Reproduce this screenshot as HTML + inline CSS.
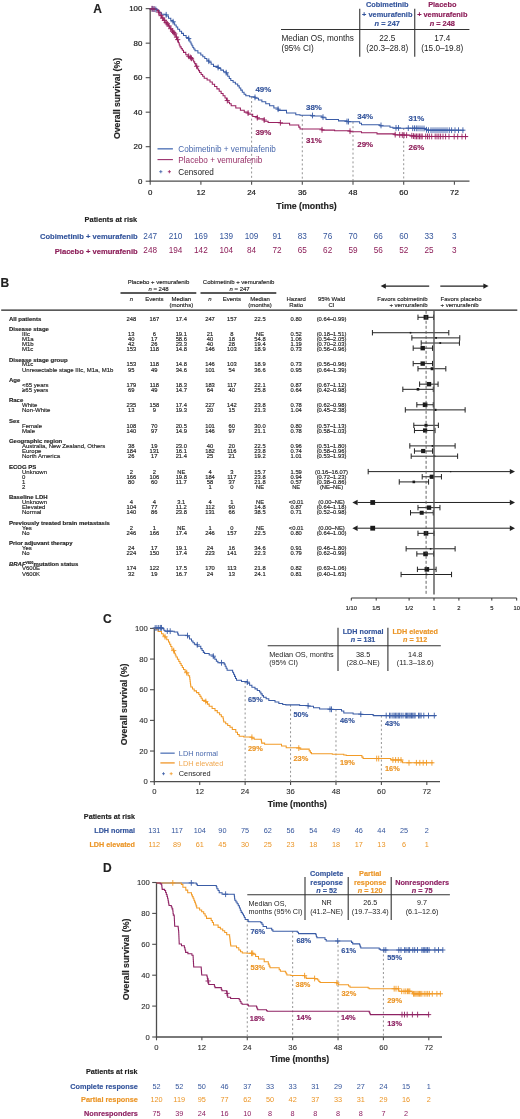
<!DOCTYPE html>
<html><head><meta charset="utf-8"><title>Overall survival figure</title>
<style>
html,body{margin:0;padding:0;background:#fff;}
body{width:520px;height:1119px;overflow:hidden;}
svg{display:block;font-family:'Liberation Sans', Arial, sans-serif;filter:blur(0.3px);}
text{stroke-linejoin:round;}
</style></head><body>
<svg width="520" height="1119" viewBox="0 0 520 1119">
<rect width="520" height="1119" fill="#fff"/>
<text x="93.2" y="12.9" font-size="12" fill="#222" text-anchor="start" font-weight="bold" stroke="#222" stroke-width="0.15">A</text>
<text transform="translate(120.4,98.5) rotate(-90)" x="0" y="0" font-size="8.75" font-weight="bold" fill="#222" text-anchor="middle" stroke="#222" stroke-width="0.15">Overall survival (%)</text>
<line x1="150.2" y1="8.15" x2="150.2" y2="181.8" stroke="#4d4d4d" stroke-width="1.3"/>
<line x1="149.6" y1="181.2" x2="469.5" y2="181.2" stroke="#4d4d4d" stroke-width="1.3"/>
<line x1="145.7" y1="181.2" x2="150.2" y2="181.2" stroke="#4d4d4d" stroke-width="1.1"/>
<text x="142.4" y="184" font-size="7.9" fill="#222" text-anchor="end" stroke="#222" stroke-width="0.22">0</text>
<line x1="145.7" y1="146.69" x2="150.2" y2="146.69" stroke="#4d4d4d" stroke-width="1.1"/>
<text x="142.4" y="149.49" font-size="7.9" fill="#222" text-anchor="end" stroke="#222" stroke-width="0.22">20</text>
<line x1="145.7" y1="112.18" x2="150.2" y2="112.18" stroke="#4d4d4d" stroke-width="1.1"/>
<text x="142.4" y="114.98" font-size="7.9" fill="#222" text-anchor="end" stroke="#222" stroke-width="0.22">40</text>
<line x1="145.7" y1="77.67" x2="150.2" y2="77.67" stroke="#4d4d4d" stroke-width="1.1"/>
<text x="142.4" y="80.47" font-size="7.9" fill="#222" text-anchor="end" stroke="#222" stroke-width="0.22">60</text>
<line x1="145.7" y1="43.16" x2="150.2" y2="43.16" stroke="#4d4d4d" stroke-width="1.1"/>
<text x="142.4" y="45.96" font-size="7.9" fill="#222" text-anchor="end" stroke="#222" stroke-width="0.22">80</text>
<line x1="145.7" y1="8.65" x2="150.2" y2="8.65" stroke="#4d4d4d" stroke-width="1.1"/>
<text x="142.4" y="11.45" font-size="7.9" fill="#222" text-anchor="end" stroke="#222" stroke-width="0.22">100</text>
<line x1="150.2" y1="181.2" x2="150.2" y2="184.7" stroke="#4d4d4d" stroke-width="1.1"/>
<text x="150.2" y="195.1" font-size="7.9" fill="#222" text-anchor="middle" stroke="#222" stroke-width="0.22">0</text>
<line x1="200.9" y1="181.2" x2="200.9" y2="184.7" stroke="#4d4d4d" stroke-width="1.1"/>
<text x="200.9" y="195.1" font-size="7.9" fill="#222" text-anchor="middle" stroke="#222" stroke-width="0.22">12</text>
<line x1="251.6" y1="181.2" x2="251.6" y2="184.7" stroke="#4d4d4d" stroke-width="1.1"/>
<text x="251.6" y="195.1" font-size="7.9" fill="#222" text-anchor="middle" stroke="#222" stroke-width="0.22">24</text>
<line x1="302.3" y1="181.2" x2="302.3" y2="184.7" stroke="#4d4d4d" stroke-width="1.1"/>
<text x="302.3" y="195.1" font-size="7.9" fill="#222" text-anchor="middle" stroke="#222" stroke-width="0.22">36</text>
<line x1="353" y1="181.2" x2="353" y2="184.7" stroke="#4d4d4d" stroke-width="1.1"/>
<text x="353" y="195.1" font-size="7.9" fill="#222" text-anchor="middle" stroke="#222" stroke-width="0.22">48</text>
<line x1="403.7" y1="181.2" x2="403.7" y2="184.7" stroke="#4d4d4d" stroke-width="1.1"/>
<text x="403.7" y="195.1" font-size="7.9" fill="#222" text-anchor="middle" stroke="#222" stroke-width="0.22">60</text>
<line x1="454.4" y1="181.2" x2="454.4" y2="184.7" stroke="#4d4d4d" stroke-width="1.1"/>
<text x="454.4" y="195.1" font-size="7.9" fill="#222" text-anchor="middle" stroke="#222" stroke-width="0.22">72</text>
<text x="306.5" y="209.2" font-size="8.8" fill="#222" text-anchor="middle" font-weight="bold" stroke="#222" stroke-width="0.15">Time (months)</text>
<line x1="251.6" y1="96.64" x2="251.6" y2="181.2" stroke="#888" stroke-width="0.9" stroke-dasharray="2,2.4"/>
<line x1="302.3" y1="115.06" x2="302.3" y2="181.2" stroke="#888" stroke-width="0.9" stroke-dasharray="2,2.4"/>
<line x1="353" y1="121.79" x2="353" y2="181.2" stroke="#888" stroke-width="0.9" stroke-dasharray="2,2.4"/>
<line x1="403.7" y1="128.03" x2="403.7" y2="181.2" stroke="#888" stroke-width="0.9" stroke-dasharray="2,2.4"/>
<path d="M150.2,8.5V9.05H156.9V9.6V10.62H159.2V12.68H161.5V13.7V14.25H166.2V14.8V15.95H168.5V18.25H170.8V20.55H173.1V21.7V22.77H174.63V24.9H176.17V27.03H177.7V28.1V29.15H179.63V31.25H181.57V33.35H183.5V34.4V35.42H186.1V37.47H188.7V38.5V39.65H189.85V41.95H191V43.1V43.97H191.93V45.7H192.87V47.43H193.8V48.3V48.95H195V49.6V50.75H197.9V53.05H200.8V54.2V55.08H202.8V56.83H204.8V58.58H206.8V60.33H208.8V61.2V62.2H211.15V64.2H213.5V65.2V66.35H218.1V67.5V68.37H220.8V70.1H223.5V71.83H226.2V72.7V73.85H227.73V76.15H229.27V78.45H230.8V79.6V80.47H233.1V82.2H235.4V83.93H237.7V84.8V85.87H239.23V88H240.77V90.13H242.3V91.2V92.22H244.05V94.27H245.8V95.3V95.75H249.6V96.2V96.8H255V97.4V98.25H258.45V99.95H261.9V100.8V101.75H265.75V103.65H269.6V104.6V105.75H273.85V108.05H278.1V109.2V110.35H286.5V111.5V112.95H295.8V114.4V114.7H300V115V115.15H311V115.3V115.95H322V116.6V117.7H326V118.8V119.5H338.5V120.2V120.85H347V121.5V121.8H359.6V122.1V123.15H361.5V124.2V124.75H380V125.3V125.95H390V126.6V127.2H393V127.8V128.15H425V128.5V129.35H427V130.2H464.2" fill="none" stroke="#3a5ca6" stroke-width="1.05" stroke-linejoin="miter"/>
<path d="M150.2,8.5V9.05H156.9V9.6V10.62H158.35V12.68H159.8V13.7V15.1H161.5V16.5V17.68H163.25V20.02H165V21.2V22.2H166.75V24.2H168.5V25.2V26.07H169.63V27.8H170.77V29.53H171.9V30.4V31.25H173.35V32.95H174.8V33.8V34.77H175.77V36.7H176.73V38.63H177.7V39.6V40.67H178.47V42.8H179.23V44.93H180V46V46.87H181.17V48.6H182.33V50.33H183.5V51.2V52.35H185.8V54.65H188.1V55.8V56.65H190.4V58.35H192.7V59.2V60.09H193.7V61.86H194.7V63.64H195.7V65.41H196.7V66.3V67.17H197.67V68.9H198.63V70.63H199.6V71.5V72.47H201.13V74.4H202.67V76.33H204.2V77.3V78.17H207.1V79.92H210V80.8V81.95H212.3V84.25H214.6V85.4V86.55H216.9V88.85H219.2V90V91.15H221.13V93.45H223.07V95.75H225V96.9V98.05H226.45V100.35H227.9V101.5V102.28H229.55V103.83H231.2V104.6V105.75H235.8V108.05H240.4V109.2V110.17H244.25V112.12H248.1V113.1V114.25H252.7V115.4V116.55H257.3V117.7V118.85H264.2V120V121.15H268.1V122.3V122.55H280.4V122.8V123.3H289.6V123.8V125H298.8V126.2V127.1H300V128V128.9H322V129.8V130.1H334.6V130.4V130.8H350V131.2V131.75H361.5V132.3V132.7H377V133.1V133.85H395V134.6V135H410V135.4V135.9H415V136.4V136.5H467.7V136.6" fill="none" stroke="#992160" stroke-width="1.05" stroke-linejoin="miter"/>
<path d="M152.3,5.94V11.74M149.7,8.84H154.9M154,6.22V12.02M151.4,9.12H156.6M155.8,6.52V12.32M153.2,9.42H158.4M166.2,11.9V17.7M163.6,14.8H168.8M173.1,18.8V24.6M170.5,21.7H175.7M188.7,35.6V41.4M186.1,38.5H191.3M208.8,58.3V64.1M206.2,61.2H211.4M218.1,64.6V70.4M215.5,67.5H220.7M226.2,69.8V75.6M223.6,72.7H228.8M255,94.5V100.3M252.4,97.4H257.6M278.1,106.3V112.1M275.5,109.2H280.7M312.5,112.58V118.38M309.9,115.48H315.1M323,114.25V120.05M320.4,117.15H325.6M347,118.6V124.4M344.4,121.5H349.6M348.5,118.67V124.47M345.9,121.57H351.1M381,122.53V128.33M378.4,125.43H383.6M396,124.97V130.77M393.4,127.87H398.6M398.5,125.02V130.82M395.9,127.92H401.1M408.3,125.23V131.03M405.7,128.13H410.9M412.7,125.33V131.13M410.1,128.23H415.3M414.5,125.37V131.17M411.9,128.27H417.1M416.3,125.41V131.21M413.7,128.31H418.9M418,125.45V131.25M415.4,128.35H420.6M420,125.49V131.29M417.4,128.39H422.6M422,125.53V131.33M419.4,128.43H424.6M424,125.58V131.38M421.4,128.48H426.6M426.5,126.87V132.67M423.9,129.77H429.1M428.5,127.3V133.1M425.9,130.2H431.1M431,127.3V133.1M428.4,130.2H433.6M433,127.3V133.1M430.4,130.2H435.6M435,127.3V133.1M432.4,130.2H437.6M437,127.3V133.1M434.4,130.2H439.6M439,127.3V133.1M436.4,130.2H441.6M441,127.3V133.1M438.4,130.2H443.6M443,127.3V133.1M440.4,130.2H445.6M445,127.3V133.1M442.4,130.2H447.6M447,127.3V133.1M444.4,130.2H449.6M449.3,127.3V133.1M446.7,130.2H451.9M451.6,127.3V133.1M449,130.2H454.2M455,127.3V133.1M452.4,130.2H457.6M458.5,127.3V133.1M455.9,130.2H461.1M462.9,127.3V133.1M460.3,130.2H465.5" fill="none" stroke="#3a5ca6" stroke-width="0.9"/>
<path d="M152,5.9V11.7M149.4,8.8H154.6M154,6.22V12.02M151.4,9.12H156.6M158.7,9.24V15.04M156.1,12.14H161.3M161,12.78V18.58M158.4,15.68H163.6M162.7,15.21V21.01M160.1,18.11H165.3M164.4,17.49V23.29M161.8,20.39H167M166.2,19.67V25.47M163.6,22.57H168.8M167.3,20.93V26.73M164.7,23.83H169.9M169,23.06V28.86M166.4,25.96H171.6M170.8,25.82V31.62M168.2,28.72H173.4M172.5,28.2V34M169.9,31.1H175.1M173.7,29.61V35.41M171.1,32.51H176.3M174.8,30.9V36.7M172.2,33.8H177.4M176.5,34.3V40.1M173.9,37.2H179.1M177.7,36.7V42.5M175.1,39.6H180.3M188.7,53.34V59.14M186.1,56.24H191.3M190.4,54.6V60.4M187.8,57.5H193M191.5,55.41V61.21M188.9,58.31H194.1M196.7,63.4V69.2M194.1,66.3H199.3M227.3,97.65V103.45M224.7,100.55H229.9M248.1,110.2V116M245.5,113.1H250.7M257.3,114.8V120.6M254.7,117.7H259.9M264.2,117.1V122.9M261.6,120H266.8M280.4,119.9V125.7M277.8,122.8H283M322,126.9V132.7M319.4,129.8H324.6M350,128.3V134.1M347.4,131.2H352.6M395.2,131.71V137.51M392.6,134.61H397.8M399.7,131.95V137.75M397.1,134.85H402.3M402.3,132.09V137.89M399.7,134.99H404.9M404,132.18V137.98M401.4,135.08H406.6M406.6,132.32V138.12M404,135.22H409.2M411.8,132.86V138.66M409.2,135.76H414.4M413.5,133.2V139M410.9,136.1H416.1M415,133.5V139.3M412.4,136.4H417.6M416.5,133.51V139.31M413.9,136.41H419.1M418,133.51V139.31M415.4,136.41H420.6M419.5,133.52V139.32M416.9,136.42H422.1M421,133.52V139.32M418.4,136.42H423.6M422.2,133.53V139.33M419.6,136.43H424.8M425.7,133.54V139.34M423.1,136.44H428.3M427.5,133.55V139.35M424.9,136.45H430.1M429.3,133.55V139.35M426.7,136.45H431.9M431.7,133.56V139.36M429.1,136.46H434.3M435.2,133.58V139.38M432.6,136.48H437.8M437,133.58V139.38M434.4,136.48H439.6M438.8,133.59V139.39M436.2,136.49H441.4M440.6,133.6V139.4M438,136.5H443.2M443,133.61V139.41M440.4,136.51H445.6M445.6,133.62V139.42M443,136.52H448.2M449,133.63V139.43M446.4,136.53H451.6M454.2,133.65V139.45M451.6,136.55H456.8M457.7,133.66V139.46M455.1,136.56H460.3M462,133.68V139.48M459.4,136.58H464.6M465.5,133.69V139.49M462.9,136.59H468.1" fill="none" stroke="#992160" stroke-width="0.9"/>
<text x="255.4" y="91.9" font-size="7.9" fill="#34559c" text-anchor="start" font-weight="bold" stroke="#34559c" stroke-width="0.15">49%</text>
<text x="306" y="109.7" font-size="7.9" fill="#34559c" text-anchor="start" font-weight="bold" stroke="#34559c" stroke-width="0.15">38%</text>
<text x="357.3" y="118.5" font-size="7.9" fill="#34559c" text-anchor="start" font-weight="bold" stroke="#34559c" stroke-width="0.15">34%</text>
<text x="408.5" y="121.2" font-size="7.9" fill="#34559c" text-anchor="start" font-weight="bold" stroke="#34559c" stroke-width="0.15">31%</text>
<text x="255.4" y="134.6" font-size="7.9" fill="#8c1d58" text-anchor="start" font-weight="bold" stroke="#8c1d58" stroke-width="0.15">39%</text>
<text x="306" y="143.4" font-size="7.9" fill="#8c1d58" text-anchor="start" font-weight="bold" stroke="#8c1d58" stroke-width="0.15">31%</text>
<text x="357.3" y="147.3" font-size="7.9" fill="#8c1d58" text-anchor="start" font-weight="bold" stroke="#8c1d58" stroke-width="0.15">29%</text>
<text x="408.5" y="150.3" font-size="7.9" fill="#8c1d58" text-anchor="start" font-weight="bold" stroke="#8c1d58" stroke-width="0.15">26%</text>
<line x1="157.5" y1="148.8" x2="172.9" y2="148.8" stroke="#6a88c2" stroke-width="1.6"/>
<line x1="157.5" y1="159.6" x2="172.9" y2="159.6" stroke="#9a2f6c" stroke-width="1.1"/>
<text x="178.3" y="151.7" font-size="8.2" fill="#4868ad" text-anchor="start">Cobimetinib + vemurafenib</text>
<text x="178.3" y="162.5" font-size="8.2" fill="#973068" text-anchor="start">Placebo + vemurafenib</text>
<line x1="159.2" y1="171.7" x2="162.4" y2="171.7" stroke="#3a5ca6" stroke-width="0.8"/>
<line x1="160.8" y1="170.1" x2="160.8" y2="173.3" stroke="#3a5ca6" stroke-width="0.8"/>
<line x1="167.8" y1="171.7" x2="171" y2="171.7" stroke="#992160" stroke-width="0.8"/>
<line x1="169.4" y1="170.1" x2="169.4" y2="173.3" stroke="#992160" stroke-width="0.8"/>
<text x="178.3" y="174.6" font-size="8.2" fill="#222" text-anchor="start">Censored</text>
<line x1="281" y1="29.5" x2="469.4" y2="29.5" stroke="#333" stroke-width="1.1"/>
<line x1="359.75" y1="8.75" x2="359.75" y2="56.8" stroke="#333" stroke-width="1.1"/>
<line x1="414.75" y1="8.75" x2="414.75" y2="56.8" stroke="#333" stroke-width="1.1"/>
<text x="387.25" y="6.7" font-size="7.4" fill="#34559c" text-anchor="middle" font-weight="bold" stroke="#34559c" stroke-width="0.15">Cobimetinib</text>
<text x="387.25" y="16.9" font-size="7.4" fill="#34559c" text-anchor="middle" font-weight="bold" stroke="#34559c" stroke-width="0.15">+ vemurafenib</text>
<text x="387.25" y="26.2" font-size="7.4" fill="#34559c" text-anchor="middle" font-weight="bold" stroke="#34559c" stroke-width="0.15"><tspan font-style="italic">n</tspan> = 247</text>
<text x="442.3" y="6.7" font-size="7.4" fill="#8c1d58" text-anchor="middle" font-weight="bold" stroke="#8c1d58" stroke-width="0.15">Placebo</text>
<text x="442.3" y="16.9" font-size="7.4" fill="#8c1d58" text-anchor="middle" font-weight="bold" stroke="#8c1d58" stroke-width="0.15">+ vemurafenib</text>
<text x="442.3" y="26.2" font-size="7.4" fill="#8c1d58" text-anchor="middle" font-weight="bold" stroke="#8c1d58" stroke-width="0.15"><tspan font-style="italic">n</tspan> = 248</text>
<text x="281.5" y="40.7" font-size="8.2" fill="#222" text-anchor="start">Median OS, months</text>
<text x="281.5" y="51" font-size="8.2" fill="#222" text-anchor="start">(95% CI)</text>
<text x="387.25" y="40.7" font-size="8.2" fill="#222" text-anchor="middle">22.5</text>
<text x="387.25" y="51" font-size="8.2" fill="#222" text-anchor="middle">(20.3–28.8)</text>
<text x="442.3" y="40.7" font-size="8.2" fill="#222" text-anchor="middle">17.4</text>
<text x="442.3" y="51" font-size="8.2" fill="#222" text-anchor="middle">(15.0–19.8)</text>
<text x="137.2" y="221.9" font-size="7.4" fill="#222" text-anchor="end" font-weight="bold" stroke="#222" stroke-width="0.15">Patients at risk</text>
<text x="137.7" y="239" font-size="7.6" fill="#34559c" text-anchor="end" font-weight="bold" stroke="#34559c" stroke-width="0.15">Cobimetinib + vemurafenib</text>
<text x="137.7" y="253.5" font-size="7.6" fill="#8c1d58" text-anchor="end" font-weight="bold" stroke="#8c1d58" stroke-width="0.15">Placebo + vemurafenib</text>
<text x="150.2" y="238.9" font-size="8.2" fill="#34559c" text-anchor="middle">247</text>
<text x="150.2" y="252.8" font-size="8.2" fill="#8c1d58" text-anchor="middle">248</text>
<text x="175.55" y="238.9" font-size="8.2" fill="#34559c" text-anchor="middle">210</text>
<text x="175.55" y="252.8" font-size="8.2" fill="#8c1d58" text-anchor="middle">194</text>
<text x="200.9" y="238.9" font-size="8.2" fill="#34559c" text-anchor="middle">169</text>
<text x="200.9" y="252.8" font-size="8.2" fill="#8c1d58" text-anchor="middle">142</text>
<text x="226.25" y="238.9" font-size="8.2" fill="#34559c" text-anchor="middle">139</text>
<text x="226.25" y="252.8" font-size="8.2" fill="#8c1d58" text-anchor="middle">104</text>
<text x="251.6" y="238.9" font-size="8.2" fill="#34559c" text-anchor="middle">109</text>
<text x="251.6" y="252.8" font-size="8.2" fill="#8c1d58" text-anchor="middle">84</text>
<text x="276.95" y="238.9" font-size="8.2" fill="#34559c" text-anchor="middle">91</text>
<text x="276.95" y="252.8" font-size="8.2" fill="#8c1d58" text-anchor="middle">72</text>
<text x="302.3" y="238.9" font-size="8.2" fill="#34559c" text-anchor="middle">83</text>
<text x="302.3" y="252.8" font-size="8.2" fill="#8c1d58" text-anchor="middle">65</text>
<text x="327.65" y="238.9" font-size="8.2" fill="#34559c" text-anchor="middle">76</text>
<text x="327.65" y="252.8" font-size="8.2" fill="#8c1d58" text-anchor="middle">62</text>
<text x="353" y="238.9" font-size="8.2" fill="#34559c" text-anchor="middle">70</text>
<text x="353" y="252.8" font-size="8.2" fill="#8c1d58" text-anchor="middle">59</text>
<text x="378.35" y="238.9" font-size="8.2" fill="#34559c" text-anchor="middle">66</text>
<text x="378.35" y="252.8" font-size="8.2" fill="#8c1d58" text-anchor="middle">56</text>
<text x="403.7" y="238.9" font-size="8.2" fill="#34559c" text-anchor="middle">60</text>
<text x="403.7" y="252.8" font-size="8.2" fill="#8c1d58" text-anchor="middle">52</text>
<text x="429.05" y="238.9" font-size="8.2" fill="#34559c" text-anchor="middle">33</text>
<text x="429.05" y="252.8" font-size="8.2" fill="#8c1d58" text-anchor="middle">25</text>
<text x="454.4" y="238.9" font-size="8.2" fill="#34559c" text-anchor="middle">3</text>
<text x="454.4" y="252.8" font-size="8.2" fill="#8c1d58" text-anchor="middle">3</text>
<text x="0.6" y="286.7" font-size="12" fill="#222" text-anchor="start" font-weight="bold" stroke="#222" stroke-width="0.15">B</text>
<text x="158.5" y="283.8" font-size="6" fill="#222" text-anchor="middle" stroke="#222" stroke-width="0.15">Placebo + vemurafenib</text>
<text x="158.5" y="290.5" font-size="6" fill="#222" text-anchor="middle" stroke="#222" stroke-width="0.15"><tspan font-style="italic">n</tspan> = 248</text>
<line x1="120.5" y1="293" x2="196.3" y2="293" stroke="#222" stroke-width="1.3"/>
<text x="238.6" y="283.8" font-size="6" fill="#222" text-anchor="middle" stroke="#222" stroke-width="0.15">Cobimetinib + vemurafenib</text>
<text x="239.6" y="290.5" font-size="6" fill="#222" text-anchor="middle" stroke="#222" stroke-width="0.15"><tspan font-style="italic">n</tspan> = 247</text>
<line x1="200.5" y1="293" x2="276.3" y2="293" stroke="#222" stroke-width="1.3"/>
<text x="131.3" y="300.5" font-size="6" fill="#222" text-anchor="middle" font-style="italic" stroke="#222" stroke-width="0.15">n</text>
<text x="154.3" y="300.5" font-size="6" fill="#222" text-anchor="middle" stroke="#222" stroke-width="0.15">Events</text>
<text x="181.3" y="300.5" font-size="6" fill="#222" text-anchor="middle" stroke="#222" stroke-width="0.15">Median</text>
<text x="181.3" y="307.3" font-size="6" fill="#222" text-anchor="middle" stroke="#222" stroke-width="0.15">(months)</text>
<text x="210" y="300.5" font-size="6" fill="#222" text-anchor="middle" font-style="italic" stroke="#222" stroke-width="0.15">n</text>
<text x="231.8" y="300.5" font-size="6" fill="#222" text-anchor="middle" stroke="#222" stroke-width="0.15">Events</text>
<text x="260" y="300.5" font-size="6" fill="#222" text-anchor="middle" stroke="#222" stroke-width="0.15">Median</text>
<text x="260" y="307.3" font-size="6" fill="#222" text-anchor="middle" stroke="#222" stroke-width="0.15">(months)</text>
<text x="296.2" y="300.5" font-size="6" fill="#222" text-anchor="middle" stroke="#222" stroke-width="0.15">Hazard</text>
<text x="296.2" y="307.3" font-size="6" fill="#222" text-anchor="middle" stroke="#222" stroke-width="0.15">Ratio</text>
<text x="331.5" y="300.5" font-size="6" fill="#222" text-anchor="middle" stroke="#222" stroke-width="0.15">95% Wald</text>
<text x="331.5" y="307.3" font-size="6" fill="#222" text-anchor="middle" stroke="#222" stroke-width="0.15">CI</text>
<text x="427.6" y="300.5" font-size="6" fill="#222" text-anchor="end" stroke="#222" stroke-width="0.15">Favors cobimetinib</text>
<text x="427.6" y="307.3" font-size="6" fill="#222" text-anchor="end" stroke="#222" stroke-width="0.15">+ vemurafenib</text>
<text x="440.5" y="300.5" font-size="6" fill="#222" text-anchor="start" stroke="#222" stroke-width="0.15">Favors placebo</text>
<text x="440.5" y="307.3" font-size="6" fill="#222" text-anchor="start" stroke="#222" stroke-width="0.15">+ vemurafenib</text>
<line x1="384.5" y1="286.1" x2="429.2" y2="286.1" stroke="#222" stroke-width="1.1"/>
<path d="M380.6,286.1 L385.8,283.5 L385.8,288.70000000000005 Z" fill="#222"/>
<line x1="440.3" y1="286.1" x2="484.5" y2="286.1" stroke="#222" stroke-width="1.1"/>
<path d="M488.6,286.1 L483.4,283.5 L483.4,288.70000000000005 Z" fill="#222"/>
<line x1="1.2" y1="310.2" x2="517.3" y2="310.2" stroke="#222" stroke-width="1.3"/>
<text x="8.9" y="320.9" font-size="6" fill="#222" text-anchor="start" font-weight="bold" stroke="#222" stroke-width="0.15">All patients</text>
<text x="131.3" y="320.6" font-size="5.8" fill="#222" text-anchor="middle" stroke="#222" stroke-width="0.15">248</text>
<text x="154.3" y="320.6" font-size="5.8" fill="#222" text-anchor="middle" stroke="#222" stroke-width="0.15">167</text>
<text x="181.3" y="320.6" font-size="5.8" fill="#222" text-anchor="middle" stroke="#222" stroke-width="0.15">17.4</text>
<text x="210" y="320.6" font-size="5.8" fill="#222" text-anchor="middle" stroke="#222" stroke-width="0.15">247</text>
<text x="231.8" y="320.6" font-size="5.8" fill="#222" text-anchor="middle" stroke="#222" stroke-width="0.15">157</text>
<text x="260" y="320.6" font-size="5.8" fill="#222" text-anchor="middle" stroke="#222" stroke-width="0.15">22.5</text>
<text x="296.2" y="320.6" font-size="5.8" fill="#222" text-anchor="middle" stroke="#222" stroke-width="0.15">0.80</text>
<text x="331.5" y="320.6" font-size="5.8" fill="#222" text-anchor="middle" stroke="#222" stroke-width="0.15">(0.64–0.99)</text>
<line x1="417.97" y1="317.3" x2="433.64" y2="317.3" stroke="#222" stroke-width="1.0"/>
<line x1="417.97" y1="314.6" x2="417.97" y2="320" stroke="#222" stroke-width="1.0"/>
<line x1="433.64" y1="314.6" x2="433.64" y2="320" stroke="#222" stroke-width="1.0"/>
<rect x="423.59" y="314.9" width="4.8" height="4.8" fill="#1a1a1a"/>
<text x="8.9" y="331.1" font-size="6" fill="#222" text-anchor="start" font-weight="bold" stroke="#222" stroke-width="0.15">Disease stage</text>
<text x="22" y="335.9" font-size="6" fill="#222" text-anchor="start" stroke="#222" stroke-width="0.15">IIIc</text>
<text x="131.3" y="335.9" font-size="5.8" fill="#222" text-anchor="middle" stroke="#222" stroke-width="0.15">13</text>
<text x="154.3" y="335.9" font-size="5.8" fill="#222" text-anchor="middle" stroke="#222" stroke-width="0.15">6</text>
<text x="181.3" y="335.9" font-size="5.8" fill="#222" text-anchor="middle" stroke="#222" stroke-width="0.15">19.1</text>
<text x="210" y="335.9" font-size="5.8" fill="#222" text-anchor="middle" stroke="#222" stroke-width="0.15">21</text>
<text x="231.8" y="335.9" font-size="5.8" fill="#222" text-anchor="middle" stroke="#222" stroke-width="0.15">8</text>
<text x="260" y="335.9" font-size="5.8" fill="#222" text-anchor="middle" stroke="#222" stroke-width="0.15">NE</text>
<text x="296.2" y="335.9" font-size="5.8" fill="#222" text-anchor="middle" stroke="#222" stroke-width="0.15">0.52</text>
<text x="331.5" y="335.9" font-size="5.8" fill="#222" text-anchor="middle" stroke="#222" stroke-width="0.15">(0.18–1.51)</text>
<line x1="372.41" y1="332.73" x2="448.8" y2="332.73" stroke="#222" stroke-width="1.0"/>
<line x1="372.41" y1="330.03" x2="372.41" y2="335.43" stroke="#222" stroke-width="1.0"/>
<line x1="448.8" y1="330.03" x2="448.8" y2="335.43" stroke="#222" stroke-width="1.0"/>
<rect x="409.71" y="331.93" width="1.6" height="1.6" fill="#1a1a1a"/>
<text x="22" y="341" font-size="6" fill="#222" text-anchor="start" stroke="#222" stroke-width="0.15">M1a</text>
<text x="131.3" y="341" font-size="5.8" fill="#222" text-anchor="middle" stroke="#222" stroke-width="0.15">40</text>
<text x="154.3" y="341" font-size="5.8" fill="#222" text-anchor="middle" stroke="#222" stroke-width="0.15">17</text>
<text x="181.3" y="341" font-size="5.8" fill="#222" text-anchor="middle" stroke="#222" stroke-width="0.15">58.6</text>
<text x="210" y="341" font-size="5.8" fill="#222" text-anchor="middle" stroke="#222" stroke-width="0.15">40</text>
<text x="231.8" y="341" font-size="5.8" fill="#222" text-anchor="middle" stroke="#222" stroke-width="0.15">18</text>
<text x="260" y="341" font-size="5.8" fill="#222" text-anchor="middle" stroke="#222" stroke-width="0.15">54.8</text>
<text x="296.2" y="341" font-size="5.8" fill="#222" text-anchor="middle" stroke="#222" stroke-width="0.15">1.06</text>
<text x="331.5" y="341" font-size="5.8" fill="#222" text-anchor="middle" stroke="#222" stroke-width="0.15">(0.54–2.05)</text>
<line x1="411.87" y1="337.88" x2="459.78" y2="337.88" stroke="#222" stroke-width="1.0"/>
<line x1="411.87" y1="335.18" x2="411.87" y2="340.58" stroke="#222" stroke-width="1.0"/>
<line x1="459.78" y1="335.18" x2="459.78" y2="340.58" stroke="#222" stroke-width="1.0"/>
<rect x="435.19" y="336.98" width="1.8" height="1.8" fill="#1a1a1a"/>
<text x="22" y="346.1" font-size="6" fill="#222" text-anchor="start" stroke="#222" stroke-width="0.15">M1b</text>
<text x="131.3" y="346.1" font-size="5.8" fill="#222" text-anchor="middle" stroke="#222" stroke-width="0.15">42</text>
<text x="154.3" y="346.1" font-size="5.8" fill="#222" text-anchor="middle" stroke="#222" stroke-width="0.15">26</text>
<text x="181.3" y="346.1" font-size="5.8" fill="#222" text-anchor="middle" stroke="#222" stroke-width="0.15">23.3</text>
<text x="210" y="346.1" font-size="5.8" fill="#222" text-anchor="middle" stroke="#222" stroke-width="0.15">40</text>
<text x="231.8" y="346.1" font-size="5.8" fill="#222" text-anchor="middle" stroke="#222" stroke-width="0.15">28</text>
<text x="260" y="346.1" font-size="5.8" fill="#222" text-anchor="middle" stroke="#222" stroke-width="0.15">19.4</text>
<text x="296.2" y="346.1" font-size="5.8" fill="#222" text-anchor="middle" stroke="#222" stroke-width="0.15">1.19</text>
<text x="331.5" y="346.1" font-size="5.8" fill="#222" text-anchor="middle" stroke="#222" stroke-width="0.15">(0.70–2.03)</text>
<line x1="421.19" y1="343.02" x2="459.43" y2="343.02" stroke="#222" stroke-width="1.0"/>
<line x1="421.19" y1="340.32" x2="421.19" y2="345.72" stroke="#222" stroke-width="1.0"/>
<line x1="459.43" y1="340.32" x2="459.43" y2="345.72" stroke="#222" stroke-width="1.0"/>
<rect x="439.35" y="342.12" width="1.8" height="1.8" fill="#1a1a1a"/>
<text x="22" y="351.19" font-size="6" fill="#222" text-anchor="start" stroke="#222" stroke-width="0.15">M1c</text>
<text x="131.3" y="351.19" font-size="5.8" fill="#222" text-anchor="middle" stroke="#222" stroke-width="0.15">153</text>
<text x="154.3" y="351.19" font-size="5.8" fill="#222" text-anchor="middle" stroke="#222" stroke-width="0.15">118</text>
<text x="181.3" y="351.19" font-size="5.8" fill="#222" text-anchor="middle" stroke="#222" stroke-width="0.15">14.8</text>
<text x="210" y="351.19" font-size="5.8" fill="#222" text-anchor="middle" stroke="#222" stroke-width="0.15">146</text>
<text x="231.8" y="351.19" font-size="5.8" fill="#222" text-anchor="middle" stroke="#222" stroke-width="0.15">103</text>
<text x="260" y="351.19" font-size="5.8" fill="#222" text-anchor="middle" stroke="#222" stroke-width="0.15">18.9</text>
<text x="296.2" y="351.19" font-size="5.8" fill="#222" text-anchor="middle" stroke="#222" stroke-width="0.15">0.73</text>
<text x="331.5" y="351.19" font-size="5.8" fill="#222" text-anchor="middle" stroke="#222" stroke-width="0.15">(0.56–0.96)</text>
<line x1="413.18" y1="348.16" x2="432.53" y2="348.16" stroke="#222" stroke-width="1.0"/>
<line x1="413.18" y1="345.46" x2="413.18" y2="350.86" stroke="#222" stroke-width="1.0"/>
<line x1="432.53" y1="345.46" x2="432.53" y2="350.86" stroke="#222" stroke-width="1.0"/>
<rect x="420.5" y="345.96" width="4.4" height="4.4" fill="#1a1a1a"/>
<text x="8.9" y="361.69" font-size="6" fill="#222" text-anchor="start" font-weight="bold" stroke="#222" stroke-width="0.15">Disease stage group</text>
<text x="22" y="366.49" font-size="6" fill="#222" text-anchor="start" stroke="#222" stroke-width="0.15">M1c</text>
<text x="131.3" y="366.49" font-size="5.8" fill="#222" text-anchor="middle" stroke="#222" stroke-width="0.15">153</text>
<text x="154.3" y="366.49" font-size="5.8" fill="#222" text-anchor="middle" stroke="#222" stroke-width="0.15">118</text>
<text x="181.3" y="366.49" font-size="5.8" fill="#222" text-anchor="middle" stroke="#222" stroke-width="0.15">14.8</text>
<text x="210" y="366.49" font-size="5.8" fill="#222" text-anchor="middle" stroke="#222" stroke-width="0.15">146</text>
<text x="231.8" y="366.49" font-size="5.8" fill="#222" text-anchor="middle" stroke="#222" stroke-width="0.15">103</text>
<text x="260" y="366.49" font-size="5.8" fill="#222" text-anchor="middle" stroke="#222" stroke-width="0.15">18.9</text>
<text x="296.2" y="366.49" font-size="5.8" fill="#222" text-anchor="middle" stroke="#222" stroke-width="0.15">0.73</text>
<text x="331.5" y="366.49" font-size="5.8" fill="#222" text-anchor="middle" stroke="#222" stroke-width="0.15">(0.56–0.96)</text>
<line x1="413.18" y1="363.6" x2="432.53" y2="363.6" stroke="#222" stroke-width="1.0"/>
<line x1="413.18" y1="360.9" x2="413.18" y2="366.3" stroke="#222" stroke-width="1.0"/>
<line x1="432.53" y1="360.9" x2="432.53" y2="366.3" stroke="#222" stroke-width="1.0"/>
<rect x="420.5" y="361.4" width="4.4" height="4.4" fill="#1a1a1a"/>
<text x="22" y="371.59" font-size="6" fill="#222" text-anchor="start" stroke="#222" stroke-width="0.15">Unresectable stage IIIc, M1a, M1b</text>
<text x="131.3" y="371.59" font-size="5.8" fill="#222" text-anchor="middle" stroke="#222" stroke-width="0.15">95</text>
<text x="154.3" y="371.59" font-size="5.8" fill="#222" text-anchor="middle" stroke="#222" stroke-width="0.15">49</text>
<text x="181.3" y="371.59" font-size="5.8" fill="#222" text-anchor="middle" stroke="#222" stroke-width="0.15">34.6</text>
<text x="210" y="371.59" font-size="5.8" fill="#222" text-anchor="middle" stroke="#222" stroke-width="0.15">101</text>
<text x="231.8" y="371.59" font-size="5.8" fill="#222" text-anchor="middle" stroke="#222" stroke-width="0.15">54</text>
<text x="260" y="371.59" font-size="5.8" fill="#222" text-anchor="middle" stroke="#222" stroke-width="0.15">36.6</text>
<text x="296.2" y="371.59" font-size="5.8" fill="#222" text-anchor="middle" stroke="#222" stroke-width="0.15">0.95</text>
<text x="331.5" y="371.59" font-size="5.8" fill="#222" text-anchor="middle" stroke="#222" stroke-width="0.15">(0.64–1.39)</text>
<line x1="417.97" y1="368.74" x2="445.83" y2="368.74" stroke="#222" stroke-width="1.0"/>
<line x1="417.97" y1="366.04" x2="417.97" y2="371.44" stroke="#222" stroke-width="1.0"/>
<line x1="445.83" y1="366.04" x2="445.83" y2="371.44" stroke="#222" stroke-width="1.0"/>
<rect x="430.66" y="367.24" width="3" height="3" fill="#1a1a1a"/>
<text x="8.9" y="382.09" font-size="6" fill="#222" text-anchor="start" font-weight="bold" stroke="#222" stroke-width="0.15">Age</text>
<text x="22" y="386.89" font-size="6" fill="#222" text-anchor="start" stroke="#222" stroke-width="0.15">&lt;65 years</text>
<text x="131.3" y="386.89" font-size="5.8" fill="#222" text-anchor="middle" stroke="#222" stroke-width="0.15">179</text>
<text x="154.3" y="386.89" font-size="5.8" fill="#222" text-anchor="middle" stroke="#222" stroke-width="0.15">118</text>
<text x="181.3" y="386.89" font-size="5.8" fill="#222" text-anchor="middle" stroke="#222" stroke-width="0.15">18.3</text>
<text x="210" y="386.89" font-size="5.8" fill="#222" text-anchor="middle" stroke="#222" stroke-width="0.15">183</text>
<text x="231.8" y="386.89" font-size="5.8" fill="#222" text-anchor="middle" stroke="#222" stroke-width="0.15">117</text>
<text x="260" y="386.89" font-size="5.8" fill="#222" text-anchor="middle" stroke="#222" stroke-width="0.15">22.1</text>
<text x="296.2" y="386.89" font-size="5.8" fill="#222" text-anchor="middle" stroke="#222" stroke-width="0.15">0.87</text>
<text x="331.5" y="386.89" font-size="5.8" fill="#222" text-anchor="middle" stroke="#222" stroke-width="0.15">(0.67–1.12)</text>
<line x1="419.62" y1="384.17" x2="438.07" y2="384.17" stroke="#222" stroke-width="1.0"/>
<line x1="419.62" y1="381.47" x2="419.62" y2="386.87" stroke="#222" stroke-width="1.0"/>
<line x1="438.07" y1="381.47" x2="438.07" y2="386.87" stroke="#222" stroke-width="1.0"/>
<rect x="426.8" y="381.97" width="4.4" height="4.4" fill="#1a1a1a"/>
<text x="22" y="391.99" font-size="6" fill="#222" text-anchor="start" stroke="#222" stroke-width="0.15">≥65 years</text>
<text x="131.3" y="391.99" font-size="5.8" fill="#222" text-anchor="middle" stroke="#222" stroke-width="0.15">69</text>
<text x="154.3" y="391.99" font-size="5.8" fill="#222" text-anchor="middle" stroke="#222" stroke-width="0.15">49</text>
<text x="181.3" y="391.99" font-size="5.8" fill="#222" text-anchor="middle" stroke="#222" stroke-width="0.15">14.7</text>
<text x="210" y="391.99" font-size="5.8" fill="#222" text-anchor="middle" stroke="#222" stroke-width="0.15">64</text>
<text x="231.8" y="391.99" font-size="5.8" fill="#222" text-anchor="middle" stroke="#222" stroke-width="0.15">40</text>
<text x="260" y="391.99" font-size="5.8" fill="#222" text-anchor="middle" stroke="#222" stroke-width="0.15">25.8</text>
<text x="296.2" y="391.99" font-size="5.8" fill="#222" text-anchor="middle" stroke="#222" stroke-width="0.15">0.64</text>
<text x="331.5" y="391.99" font-size="5.8" fill="#222" text-anchor="middle" stroke="#222" stroke-width="0.15">(0.42–0.98)</text>
<line x1="402.84" y1="389.32" x2="433.27" y2="389.32" stroke="#222" stroke-width="1.0"/>
<line x1="402.84" y1="386.62" x2="402.84" y2="392.02" stroke="#222" stroke-width="1.0"/>
<line x1="433.27" y1="386.62" x2="433.27" y2="392.02" stroke="#222" stroke-width="1.0"/>
<rect x="416.67" y="388.02" width="2.6" height="2.6" fill="#1a1a1a"/>
<text x="8.9" y="402.48" font-size="6" fill="#222" text-anchor="start" font-weight="bold" stroke="#222" stroke-width="0.15">Race</text>
<text x="22" y="407.28" font-size="6" fill="#222" text-anchor="start" stroke="#222" stroke-width="0.15">White</text>
<text x="131.3" y="407.28" font-size="5.8" fill="#222" text-anchor="middle" stroke="#222" stroke-width="0.15">235</text>
<text x="154.3" y="407.28" font-size="5.8" fill="#222" text-anchor="middle" stroke="#222" stroke-width="0.15">158</text>
<text x="181.3" y="407.28" font-size="5.8" fill="#222" text-anchor="middle" stroke="#222" stroke-width="0.15">17.4</text>
<text x="210" y="407.28" font-size="5.8" fill="#222" text-anchor="middle" stroke="#222" stroke-width="0.15">227</text>
<text x="231.8" y="407.28" font-size="5.8" fill="#222" text-anchor="middle" stroke="#222" stroke-width="0.15">142</text>
<text x="260" y="407.28" font-size="5.8" fill="#222" text-anchor="middle" stroke="#222" stroke-width="0.15">23.8</text>
<text x="296.2" y="407.28" font-size="5.8" fill="#222" text-anchor="middle" stroke="#222" stroke-width="0.15">0.78</text>
<text x="331.5" y="407.28" font-size="5.8" fill="#222" text-anchor="middle" stroke="#222" stroke-width="0.15">(0.62–0.98)</text>
<line x1="416.83" y1="404.75" x2="433.27" y2="404.75" stroke="#222" stroke-width="1.0"/>
<line x1="416.83" y1="402.05" x2="416.83" y2="407.45" stroke="#222" stroke-width="1.0"/>
<line x1="433.27" y1="402.05" x2="433.27" y2="407.45" stroke="#222" stroke-width="1.0"/>
<rect x="422.78" y="402.45" width="4.6" height="4.6" fill="#1a1a1a"/>
<text x="22" y="412.38" font-size="6" fill="#222" text-anchor="start" stroke="#222" stroke-width="0.15">Non-White</text>
<text x="131.3" y="412.38" font-size="5.8" fill="#222" text-anchor="middle" stroke="#222" stroke-width="0.15">13</text>
<text x="154.3" y="412.38" font-size="5.8" fill="#222" text-anchor="middle" stroke="#222" stroke-width="0.15">9</text>
<text x="181.3" y="412.38" font-size="5.8" fill="#222" text-anchor="middle" stroke="#222" stroke-width="0.15">19.3</text>
<text x="210" y="412.38" font-size="5.8" fill="#222" text-anchor="middle" stroke="#222" stroke-width="0.15">20</text>
<text x="231.8" y="412.38" font-size="5.8" fill="#222" text-anchor="middle" stroke="#222" stroke-width="0.15">15</text>
<text x="260" y="412.38" font-size="5.8" fill="#222" text-anchor="middle" stroke="#222" stroke-width="0.15">21.3</text>
<text x="296.2" y="412.38" font-size="5.8" fill="#222" text-anchor="middle" stroke="#222" stroke-width="0.15">1.04</text>
<text x="331.5" y="412.38" font-size="5.8" fill="#222" text-anchor="middle" stroke="#222" stroke-width="0.15">(0.45–2.38)</text>
<line x1="405.32" y1="409.89" x2="465.14" y2="409.89" stroke="#222" stroke-width="1.0"/>
<line x1="405.32" y1="407.19" x2="405.32" y2="412.59" stroke="#222" stroke-width="1.0"/>
<line x1="465.14" y1="407.19" x2="465.14" y2="412.59" stroke="#222" stroke-width="1.0"/>
<rect x="434.31" y="408.79" width="2.2" height="2.2" fill="#1a1a1a"/>
<text x="8.9" y="422.88" font-size="6" fill="#222" text-anchor="start" font-weight="bold" stroke="#222" stroke-width="0.15">Sex</text>
<text x="22" y="427.68" font-size="6" fill="#222" text-anchor="start" stroke="#222" stroke-width="0.15">Female</text>
<text x="131.3" y="427.68" font-size="5.8" fill="#222" text-anchor="middle" stroke="#222" stroke-width="0.15">108</text>
<text x="154.3" y="427.68" font-size="5.8" fill="#222" text-anchor="middle" stroke="#222" stroke-width="0.15">70</text>
<text x="181.3" y="427.68" font-size="5.8" fill="#222" text-anchor="middle" stroke="#222" stroke-width="0.15">20.5</text>
<text x="210" y="427.68" font-size="5.8" fill="#222" text-anchor="middle" stroke="#222" stroke-width="0.15">101</text>
<text x="231.8" y="427.68" font-size="5.8" fill="#222" text-anchor="middle" stroke="#222" stroke-width="0.15">60</text>
<text x="260" y="427.68" font-size="5.8" fill="#222" text-anchor="middle" stroke="#222" stroke-width="0.15">30.0</text>
<text x="296.2" y="427.68" font-size="5.8" fill="#222" text-anchor="middle" stroke="#222" stroke-width="0.15">0.80</text>
<text x="331.5" y="427.68" font-size="5.8" fill="#222" text-anchor="middle" stroke="#222" stroke-width="0.15">(0.57–1.13)</text>
<line x1="413.81" y1="425.32" x2="438.39" y2="425.32" stroke="#222" stroke-width="1.0"/>
<line x1="413.81" y1="422.62" x2="413.81" y2="428.02" stroke="#222" stroke-width="1.0"/>
<line x1="438.39" y1="422.62" x2="438.39" y2="428.02" stroke="#222" stroke-width="1.0"/>
<rect x="424.49" y="423.82" width="3" height="3" fill="#1a1a1a"/>
<text x="22" y="432.78" font-size="6" fill="#222" text-anchor="start" stroke="#222" stroke-width="0.15">Male</text>
<text x="131.3" y="432.78" font-size="5.8" fill="#222" text-anchor="middle" stroke="#222" stroke-width="0.15">140</text>
<text x="154.3" y="432.78" font-size="5.8" fill="#222" text-anchor="middle" stroke="#222" stroke-width="0.15">97</text>
<text x="181.3" y="432.78" font-size="5.8" fill="#222" text-anchor="middle" stroke="#222" stroke-width="0.15">14.9</text>
<text x="210" y="432.78" font-size="5.8" fill="#222" text-anchor="middle" stroke="#222" stroke-width="0.15">146</text>
<text x="231.8" y="432.78" font-size="5.8" fill="#222" text-anchor="middle" stroke="#222" stroke-width="0.15">97</text>
<text x="260" y="432.78" font-size="5.8" fill="#222" text-anchor="middle" stroke="#222" stroke-width="0.15">21.1</text>
<text x="296.2" y="432.78" font-size="5.8" fill="#222" text-anchor="middle" stroke="#222" stroke-width="0.15">0.78</text>
<text x="331.5" y="432.78" font-size="5.8" fill="#222" text-anchor="middle" stroke="#222" stroke-width="0.15">(0.58–1.03)</text>
<line x1="414.44" y1="430.47" x2="435.06" y2="430.47" stroke="#222" stroke-width="1.0"/>
<line x1="414.44" y1="427.77" x2="414.44" y2="433.17" stroke="#222" stroke-width="1.0"/>
<line x1="435.06" y1="427.77" x2="435.06" y2="433.17" stroke="#222" stroke-width="1.0"/>
<rect x="422.98" y="428.37" width="4.2" height="4.2" fill="#1a1a1a"/>
<text x="8.9" y="443.28" font-size="6" fill="#222" text-anchor="start" font-weight="bold" stroke="#222" stroke-width="0.15">Geographic region</text>
<text x="22" y="448.08" font-size="6" fill="#222" text-anchor="start" stroke="#222" stroke-width="0.15">Australia, New Zealand, Others</text>
<text x="131.3" y="448.08" font-size="5.8" fill="#222" text-anchor="middle" stroke="#222" stroke-width="0.15">38</text>
<text x="154.3" y="448.08" font-size="5.8" fill="#222" text-anchor="middle" stroke="#222" stroke-width="0.15">19</text>
<text x="181.3" y="448.08" font-size="5.8" fill="#222" text-anchor="middle" stroke="#222" stroke-width="0.15">23.0</text>
<text x="210" y="448.08" font-size="5.8" fill="#222" text-anchor="middle" stroke="#222" stroke-width="0.15">40</text>
<text x="231.8" y="448.08" font-size="5.8" fill="#222" text-anchor="middle" stroke="#222" stroke-width="0.15">20</text>
<text x="260" y="448.08" font-size="5.8" fill="#222" text-anchor="middle" stroke="#222" stroke-width="0.15">22.5</text>
<text x="296.2" y="448.08" font-size="5.8" fill="#222" text-anchor="middle" stroke="#222" stroke-width="0.15">0.96</text>
<text x="331.5" y="448.08" font-size="5.8" fill="#222" text-anchor="middle" stroke="#222" stroke-width="0.15">(0.51–1.80)</text>
<line x1="409.82" y1="445.9" x2="455.11" y2="445.9" stroke="#222" stroke-width="1.0"/>
<line x1="409.82" y1="443.2" x2="409.82" y2="448.6" stroke="#222" stroke-width="1.0"/>
<line x1="455.11" y1="443.2" x2="455.11" y2="448.6" stroke="#222" stroke-width="1.0"/>
<rect x="431.63" y="445" width="1.8" height="1.8" fill="#1a1a1a"/>
<text x="22" y="453.17" font-size="6" fill="#222" text-anchor="start" stroke="#222" stroke-width="0.15">Europe</text>
<text x="131.3" y="453.17" font-size="5.8" fill="#222" text-anchor="middle" stroke="#222" stroke-width="0.15">184</text>
<text x="154.3" y="453.17" font-size="5.8" fill="#222" text-anchor="middle" stroke="#222" stroke-width="0.15">131</text>
<text x="181.3" y="453.17" font-size="5.8" fill="#222" text-anchor="middle" stroke="#222" stroke-width="0.15">16.1</text>
<text x="210" y="453.17" font-size="5.8" fill="#222" text-anchor="middle" stroke="#222" stroke-width="0.15">182</text>
<text x="231.8" y="453.17" font-size="5.8" fill="#222" text-anchor="middle" stroke="#222" stroke-width="0.15">116</text>
<text x="260" y="453.17" font-size="5.8" fill="#222" text-anchor="middle" stroke="#222" stroke-width="0.15">23.8</text>
<text x="296.2" y="453.17" font-size="5.8" fill="#222" text-anchor="middle" stroke="#222" stroke-width="0.15">0.74</text>
<text x="331.5" y="453.17" font-size="5.8" fill="#222" text-anchor="middle" stroke="#222" stroke-width="0.15">(0.58–0.96)</text>
<line x1="414.44" y1="451.04" x2="432.53" y2="451.04" stroke="#222" stroke-width="1.0"/>
<line x1="414.44" y1="448.34" x2="414.44" y2="453.74" stroke="#222" stroke-width="1.0"/>
<line x1="432.53" y1="448.34" x2="432.53" y2="453.74" stroke="#222" stroke-width="1.0"/>
<rect x="421.09" y="448.94" width="4.2" height="4.2" fill="#1a1a1a"/>
<text x="22" y="458.27" font-size="6" fill="#222" text-anchor="start" stroke="#222" stroke-width="0.15">North America</text>
<text x="131.3" y="458.27" font-size="5.8" fill="#222" text-anchor="middle" stroke="#222" stroke-width="0.15">26</text>
<text x="154.3" y="458.27" font-size="5.8" fill="#222" text-anchor="middle" stroke="#222" stroke-width="0.15">17</text>
<text x="181.3" y="458.27" font-size="5.8" fill="#222" text-anchor="middle" stroke="#222" stroke-width="0.15">21.4</text>
<text x="210" y="458.27" font-size="5.8" fill="#222" text-anchor="middle" stroke="#222" stroke-width="0.15">25</text>
<text x="231.8" y="458.27" font-size="5.8" fill="#222" text-anchor="middle" stroke="#222" stroke-width="0.15">21</text>
<text x="260" y="458.27" font-size="5.8" fill="#222" text-anchor="middle" stroke="#222" stroke-width="0.15">19.2</text>
<text x="296.2" y="458.27" font-size="5.8" fill="#222" text-anchor="middle" stroke="#222" stroke-width="0.15">1.01</text>
<text x="331.5" y="458.27" font-size="5.8" fill="#222" text-anchor="middle" stroke="#222" stroke-width="0.15">(0.53–1.93)</text>
<line x1="411.2" y1="456.19" x2="457.62" y2="456.19" stroke="#222" stroke-width="1.0"/>
<line x1="411.2" y1="453.49" x2="411.2" y2="458.89" stroke="#222" stroke-width="1.0"/>
<line x1="457.62" y1="453.49" x2="457.62" y2="458.89" stroke="#222" stroke-width="1.0"/>
<rect x="433.46" y="455.29" width="1.8" height="1.8" fill="#1a1a1a"/>
<text x="8.9" y="468.77" font-size="6" fill="#222" text-anchor="start" font-weight="bold" stroke="#222" stroke-width="0.15">ECOG PS</text>
<text x="22" y="473.57" font-size="6" fill="#222" text-anchor="start" stroke="#222" stroke-width="0.15">Unknown</text>
<text x="131.3" y="473.57" font-size="5.8" fill="#222" text-anchor="middle" stroke="#222" stroke-width="0.15">2</text>
<text x="154.3" y="473.57" font-size="5.8" fill="#222" text-anchor="middle" stroke="#222" stroke-width="0.15">2</text>
<text x="181.3" y="473.57" font-size="5.8" fill="#222" text-anchor="middle" stroke="#222" stroke-width="0.15">NE</text>
<text x="210" y="473.57" font-size="5.8" fill="#222" text-anchor="middle" stroke="#222" stroke-width="0.15">4</text>
<text x="231.8" y="473.57" font-size="5.8" fill="#222" text-anchor="middle" stroke="#222" stroke-width="0.15">3</text>
<text x="260" y="473.57" font-size="5.8" fill="#222" text-anchor="middle" stroke="#222" stroke-width="0.15">15.7</text>
<text x="296.2" y="473.57" font-size="5.8" fill="#222" text-anchor="middle" stroke="#222" stroke-width="0.15">1.59</text>
<text x="331.5" y="473.57" font-size="5.8" fill="#222" text-anchor="middle" stroke="#222" stroke-width="0.15">(0.16–16.07)</text>
<line x1="368.18" y1="471.62" x2="510.5" y2="471.62" stroke="#222" stroke-width="1.0"/>
<line x1="368.18" y1="468.92" x2="368.18" y2="474.32" stroke="#222" stroke-width="1.0"/>
<path d="M515,471.62 L509.8,468.92 L509.8,474.32 Z" fill="#222"/>
<rect x="450.06" y="471.02" width="1.2" height="1.2" fill="#1a1a1a"/>
<text x="22" y="478.67" font-size="6" fill="#222" text-anchor="start" stroke="#222" stroke-width="0.15">0</text>
<text x="131.3" y="478.67" font-size="5.8" fill="#222" text-anchor="middle" stroke="#222" stroke-width="0.15">166</text>
<text x="154.3" y="478.67" font-size="5.8" fill="#222" text-anchor="middle" stroke="#222" stroke-width="0.15">106</text>
<text x="181.3" y="478.67" font-size="5.8" fill="#222" text-anchor="middle" stroke="#222" stroke-width="0.15">19.8</text>
<text x="210" y="478.67" font-size="5.8" fill="#222" text-anchor="middle" stroke="#222" stroke-width="0.15">184</text>
<text x="231.8" y="478.67" font-size="5.8" fill="#222" text-anchor="middle" stroke="#222" stroke-width="0.15">117</text>
<text x="260" y="478.67" font-size="5.8" fill="#222" text-anchor="middle" stroke="#222" stroke-width="0.15">23.8</text>
<text x="296.2" y="478.67" font-size="5.8" fill="#222" text-anchor="middle" stroke="#222" stroke-width="0.15">0.94</text>
<text x="331.5" y="478.67" font-size="5.8" fill="#222" text-anchor="middle" stroke="#222" stroke-width="0.15">(0.72–1.23)</text>
<line x1="422.2" y1="476.76" x2="441.44" y2="476.76" stroke="#222" stroke-width="1.0"/>
<line x1="422.2" y1="474.06" x2="422.2" y2="479.46" stroke="#222" stroke-width="1.0"/>
<line x1="441.44" y1="474.06" x2="441.44" y2="479.46" stroke="#222" stroke-width="1.0"/>
<rect x="429.68" y="474.66" width="4.2" height="4.2" fill="#1a1a1a"/>
<text x="22" y="483.77" font-size="6" fill="#222" text-anchor="start" stroke="#222" stroke-width="0.15">1</text>
<text x="131.3" y="483.77" font-size="5.8" fill="#222" text-anchor="middle" stroke="#222" stroke-width="0.15">80</text>
<text x="154.3" y="483.77" font-size="5.8" fill="#222" text-anchor="middle" stroke="#222" stroke-width="0.15">60</text>
<text x="181.3" y="483.77" font-size="5.8" fill="#222" text-anchor="middle" stroke="#222" stroke-width="0.15">11.7</text>
<text x="210" y="483.77" font-size="5.8" fill="#222" text-anchor="middle" stroke="#222" stroke-width="0.15">58</text>
<text x="231.8" y="483.77" font-size="5.8" fill="#222" text-anchor="middle" stroke="#222" stroke-width="0.15">37</text>
<text x="260" y="483.77" font-size="5.8" fill="#222" text-anchor="middle" stroke="#222" stroke-width="0.15">21.8</text>
<text x="296.2" y="483.77" font-size="5.8" fill="#222" text-anchor="middle" stroke="#222" stroke-width="0.15">0.57</text>
<text x="331.5" y="483.77" font-size="5.8" fill="#222" text-anchor="middle" stroke="#222" stroke-width="0.15">(0.38–0.86)</text>
<line x1="399.25" y1="481.91" x2="428.58" y2="481.91" stroke="#222" stroke-width="1.0"/>
<line x1="399.25" y1="479.21" x2="399.25" y2="484.61" stroke="#222" stroke-width="1.0"/>
<line x1="428.58" y1="479.21" x2="428.58" y2="484.61" stroke="#222" stroke-width="1.0"/>
<rect x="412.51" y="480.61" width="2.6" height="2.6" fill="#1a1a1a"/>
<text x="22" y="488.87" font-size="6" fill="#222" text-anchor="start" stroke="#222" stroke-width="0.15">2</text>
<text x="210" y="488.87" font-size="5.8" fill="#222" text-anchor="middle" stroke="#222" stroke-width="0.15">1</text>
<text x="231.8" y="488.87" font-size="5.8" fill="#222" text-anchor="middle" stroke="#222" stroke-width="0.15">0</text>
<text x="260" y="488.87" font-size="5.8" fill="#222" text-anchor="middle" stroke="#222" stroke-width="0.15">NE</text>
<text x="296.2" y="488.87" font-size="5.8" fill="#222" text-anchor="middle" stroke="#222" stroke-width="0.15">NE</text>
<text x="331.5" y="488.87" font-size="5.8" fill="#222" text-anchor="middle" stroke="#222" stroke-width="0.15">(NE–NE)</text>
<text x="8.9" y="499.37" font-size="6" fill="#222" text-anchor="start" font-weight="bold" stroke="#222" stroke-width="0.15">Baseline LDH</text>
<text x="22" y="504.16" font-size="6" fill="#222" text-anchor="start" stroke="#222" stroke-width="0.15">Unknown</text>
<text x="131.3" y="504.16" font-size="5.8" fill="#222" text-anchor="middle" stroke="#222" stroke-width="0.15">4</text>
<text x="154.3" y="504.16" font-size="5.8" fill="#222" text-anchor="middle" stroke="#222" stroke-width="0.15">4</text>
<text x="181.3" y="504.16" font-size="5.8" fill="#222" text-anchor="middle" stroke="#222" stroke-width="0.15">3.1</text>
<text x="210" y="504.16" font-size="5.8" fill="#222" text-anchor="middle" stroke="#222" stroke-width="0.15">4</text>
<text x="231.8" y="504.16" font-size="5.8" fill="#222" text-anchor="middle" stroke="#222" stroke-width="0.15">1</text>
<text x="260" y="504.16" font-size="5.8" fill="#222" text-anchor="middle" stroke="#222" stroke-width="0.15">NE</text>
<text x="296.2" y="504.16" font-size="5.8" fill="#222" text-anchor="middle" stroke="#222" stroke-width="0.15">&lt;0.01</text>
<text x="331.5" y="504.16" font-size="5.8" fill="#222" text-anchor="middle" stroke="#222" stroke-width="0.15">(0.00–NE)</text>
<line x1="357.5" y1="502.48" x2="510.5" y2="502.48" stroke="#222" stroke-width="1.0"/>
<path d="M352.4,502.48 L357.6,499.78 L357.6,505.18 Z" fill="#222"/>
<path d="M515,502.48 L509.8,499.78 L509.8,505.18 Z" fill="#222"/>
<rect x="370.3" y="500.08" width="4.8" height="4.8" fill="#1a1a1a"/>
<text x="22" y="509.26" font-size="6" fill="#222" text-anchor="start" stroke="#222" stroke-width="0.15">Elevated</text>
<text x="131.3" y="509.26" font-size="5.8" fill="#222" text-anchor="middle" stroke="#222" stroke-width="0.15">104</text>
<text x="154.3" y="509.26" font-size="5.8" fill="#222" text-anchor="middle" stroke="#222" stroke-width="0.15">77</text>
<text x="181.3" y="509.26" font-size="5.8" fill="#222" text-anchor="middle" stroke="#222" stroke-width="0.15">11.2</text>
<text x="210" y="509.26" font-size="5.8" fill="#222" text-anchor="middle" stroke="#222" stroke-width="0.15">112</text>
<text x="231.8" y="509.26" font-size="5.8" fill="#222" text-anchor="middle" stroke="#222" stroke-width="0.15">90</text>
<text x="260" y="509.26" font-size="5.8" fill="#222" text-anchor="middle" stroke="#222" stroke-width="0.15">14.8</text>
<text x="296.2" y="509.26" font-size="5.8" fill="#222" text-anchor="middle" stroke="#222" stroke-width="0.15">0.87</text>
<text x="331.5" y="509.26" font-size="5.8" fill="#222" text-anchor="middle" stroke="#222" stroke-width="0.15">(0.64–1.18)</text>
<line x1="417.97" y1="507.63" x2="439.94" y2="507.63" stroke="#222" stroke-width="1.0"/>
<line x1="417.97" y1="504.93" x2="417.97" y2="510.33" stroke="#222" stroke-width="1.0"/>
<line x1="439.94" y1="504.93" x2="439.94" y2="510.33" stroke="#222" stroke-width="1.0"/>
<rect x="426.8" y="505.43" width="4.4" height="4.4" fill="#1a1a1a"/>
<text x="22" y="514.36" font-size="6" fill="#222" text-anchor="start" stroke="#222" stroke-width="0.15">Normal</text>
<text x="131.3" y="514.36" font-size="5.8" fill="#222" text-anchor="middle" stroke="#222" stroke-width="0.15">140</text>
<text x="154.3" y="514.36" font-size="5.8" fill="#222" text-anchor="middle" stroke="#222" stroke-width="0.15">86</text>
<text x="181.3" y="514.36" font-size="5.8" fill="#222" text-anchor="middle" stroke="#222" stroke-width="0.15">23.8</text>
<text x="210" y="514.36" font-size="5.8" fill="#222" text-anchor="middle" stroke="#222" stroke-width="0.15">131</text>
<text x="231.8" y="514.36" font-size="5.8" fill="#222" text-anchor="middle" stroke="#222" stroke-width="0.15">66</text>
<text x="260" y="514.36" font-size="5.8" fill="#222" text-anchor="middle" stroke="#222" stroke-width="0.15">38.5</text>
<text x="296.2" y="514.36" font-size="5.8" fill="#222" text-anchor="middle" stroke="#222" stroke-width="0.15">0.71</text>
<text x="331.5" y="514.36" font-size="5.8" fill="#222" text-anchor="middle" stroke="#222" stroke-width="0.15">(0.52–0.98)</text>
<line x1="410.51" y1="512.77" x2="433.27" y2="512.77" stroke="#222" stroke-width="1.0"/>
<line x1="410.51" y1="510.07" x2="410.51" y2="515.47" stroke="#222" stroke-width="1.0"/>
<line x1="433.27" y1="510.07" x2="433.27" y2="515.47" stroke="#222" stroke-width="1.0"/>
<rect x="419.7" y="510.77" width="4" height="4" fill="#1a1a1a"/>
<text x="8.9" y="524.86" font-size="6" fill="#222" text-anchor="start" font-weight="bold" stroke="#222" stroke-width="0.15">Previously treated brain metastasis</text>
<text x="22" y="529.66" font-size="6" fill="#222" text-anchor="start" stroke="#222" stroke-width="0.15">Yes</text>
<text x="131.3" y="529.66" font-size="5.8" fill="#222" text-anchor="middle" stroke="#222" stroke-width="0.15">2</text>
<text x="154.3" y="529.66" font-size="5.8" fill="#222" text-anchor="middle" stroke="#222" stroke-width="0.15">1</text>
<text x="181.3" y="529.66" font-size="5.8" fill="#222" text-anchor="middle" stroke="#222" stroke-width="0.15">NE</text>
<text x="210" y="529.66" font-size="5.8" fill="#222" text-anchor="middle" stroke="#222" stroke-width="0.15">1</text>
<text x="231.8" y="529.66" font-size="5.8" fill="#222" text-anchor="middle" stroke="#222" stroke-width="0.15">0</text>
<text x="260" y="529.66" font-size="5.8" fill="#222" text-anchor="middle" stroke="#222" stroke-width="0.15">NE</text>
<text x="296.2" y="529.66" font-size="5.8" fill="#222" text-anchor="middle" stroke="#222" stroke-width="0.15">&lt;0.01</text>
<text x="331.5" y="529.66" font-size="5.8" fill="#222" text-anchor="middle" stroke="#222" stroke-width="0.15">(0.00–NE)</text>
<line x1="357.5" y1="528.2" x2="510.5" y2="528.2" stroke="#222" stroke-width="1.0"/>
<path d="M352.4,528.2 L357.6,525.5 L357.6,530.9 Z" fill="#222"/>
<path d="M515,528.2 L509.8,525.5 L509.8,530.9 Z" fill="#222"/>
<rect x="370.3" y="525.8" width="4.8" height="4.8" fill="#1a1a1a"/>
<text x="22" y="534.76" font-size="6" fill="#222" text-anchor="start" stroke="#222" stroke-width="0.15">No</text>
<text x="131.3" y="534.76" font-size="5.8" fill="#222" text-anchor="middle" stroke="#222" stroke-width="0.15">246</text>
<text x="154.3" y="534.76" font-size="5.8" fill="#222" text-anchor="middle" stroke="#222" stroke-width="0.15">166</text>
<text x="181.3" y="534.76" font-size="5.8" fill="#222" text-anchor="middle" stroke="#222" stroke-width="0.15">17.4</text>
<text x="210" y="534.76" font-size="5.8" fill="#222" text-anchor="middle" stroke="#222" stroke-width="0.15">246</text>
<text x="231.8" y="534.76" font-size="5.8" fill="#222" text-anchor="middle" stroke="#222" stroke-width="0.15">157</text>
<text x="260" y="534.76" font-size="5.8" fill="#222" text-anchor="middle" stroke="#222" stroke-width="0.15">22.5</text>
<text x="296.2" y="534.76" font-size="5.8" fill="#222" text-anchor="middle" stroke="#222" stroke-width="0.15">0.80</text>
<text x="331.5" y="534.76" font-size="5.8" fill="#222" text-anchor="middle" stroke="#222" stroke-width="0.15">(0.64–1.00)</text>
<line x1="417.97" y1="533.35" x2="434" y2="533.35" stroke="#222" stroke-width="1.0"/>
<line x1="417.97" y1="530.65" x2="417.97" y2="536.05" stroke="#222" stroke-width="1.0"/>
<line x1="434" y1="530.65" x2="434" y2="536.05" stroke="#222" stroke-width="1.0"/>
<rect x="423.69" y="531.05" width="4.6" height="4.6" fill="#1a1a1a"/>
<text x="8.9" y="545.26" font-size="6" fill="#222" text-anchor="start" font-weight="bold" stroke="#222" stroke-width="0.15">Prior adjuvant therapy</text>
<text x="22" y="550.06" font-size="6" fill="#222" text-anchor="start" stroke="#222" stroke-width="0.15">Yes</text>
<text x="131.3" y="550.06" font-size="5.8" fill="#222" text-anchor="middle" stroke="#222" stroke-width="0.15">24</text>
<text x="154.3" y="550.06" font-size="5.8" fill="#222" text-anchor="middle" stroke="#222" stroke-width="0.15">17</text>
<text x="181.3" y="550.06" font-size="5.8" fill="#222" text-anchor="middle" stroke="#222" stroke-width="0.15">19.1</text>
<text x="210" y="550.06" font-size="5.8" fill="#222" text-anchor="middle" stroke="#222" stroke-width="0.15">24</text>
<text x="231.8" y="550.06" font-size="5.8" fill="#222" text-anchor="middle" stroke="#222" stroke-width="0.15">16</text>
<text x="260" y="550.06" font-size="5.8" fill="#222" text-anchor="middle" stroke="#222" stroke-width="0.15">34.6</text>
<text x="296.2" y="550.06" font-size="5.8" fill="#222" text-anchor="middle" stroke="#222" stroke-width="0.15">0.91</text>
<text x="331.5" y="550.06" font-size="5.8" fill="#222" text-anchor="middle" stroke="#222" stroke-width="0.15">(0.46–1.80)</text>
<line x1="406.11" y1="548.78" x2="455.11" y2="548.78" stroke="#222" stroke-width="1.0"/>
<line x1="406.11" y1="546.08" x2="406.11" y2="551.48" stroke="#222" stroke-width="1.0"/>
<line x1="455.11" y1="546.08" x2="455.11" y2="551.48" stroke="#222" stroke-width="1.0"/>
<rect x="429.81" y="547.98" width="1.6" height="1.6" fill="#1a1a1a"/>
<text x="22" y="555.15" font-size="6" fill="#222" text-anchor="start" stroke="#222" stroke-width="0.15">No</text>
<text x="131.3" y="555.15" font-size="5.8" fill="#222" text-anchor="middle" stroke="#222" stroke-width="0.15">224</text>
<text x="154.3" y="555.15" font-size="5.8" fill="#222" text-anchor="middle" stroke="#222" stroke-width="0.15">150</text>
<text x="181.3" y="555.15" font-size="5.8" fill="#222" text-anchor="middle" stroke="#222" stroke-width="0.15">17.4</text>
<text x="210" y="555.15" font-size="5.8" fill="#222" text-anchor="middle" stroke="#222" stroke-width="0.15">223</text>
<text x="231.8" y="555.15" font-size="5.8" fill="#222" text-anchor="middle" stroke="#222" stroke-width="0.15">141</text>
<text x="260" y="555.15" font-size="5.8" fill="#222" text-anchor="middle" stroke="#222" stroke-width="0.15">22.3</text>
<text x="296.2" y="555.15" font-size="5.8" fill="#222" text-anchor="middle" stroke="#222" stroke-width="0.15">0.79</text>
<text x="331.5" y="555.15" font-size="5.8" fill="#222" text-anchor="middle" stroke="#222" stroke-width="0.15">(0.62–0.99)</text>
<line x1="416.83" y1="553.92" x2="433.64" y2="553.92" stroke="#222" stroke-width="1.0"/>
<line x1="416.83" y1="551.22" x2="416.83" y2="556.62" stroke="#222" stroke-width="1.0"/>
<line x1="433.64" y1="551.22" x2="433.64" y2="556.62" stroke="#222" stroke-width="1.0"/>
<rect x="423.23" y="551.62" width="4.6" height="4.6" fill="#1a1a1a"/>
<text x="8.9" y="565.65" font-size="6" fill="#222" font-weight="bold" stroke="#222" stroke-width="0.15"><tspan font-style="italic">BRAF</tspan><tspan font-size="3.3" dy="-1.7">V600</tspan><tspan dy="1.7" dx="0.3">mutation status</tspan></text>
<text x="22" y="570.45" font-size="6" fill="#222" text-anchor="start" stroke="#222" stroke-width="0.15">V600E</text>
<text x="131.3" y="570.45" font-size="5.8" fill="#222" text-anchor="middle" stroke="#222" stroke-width="0.15">174</text>
<text x="154.3" y="570.45" font-size="5.8" fill="#222" text-anchor="middle" stroke="#222" stroke-width="0.15">122</text>
<text x="181.3" y="570.45" font-size="5.8" fill="#222" text-anchor="middle" stroke="#222" stroke-width="0.15">17.5</text>
<text x="210" y="570.45" font-size="5.8" fill="#222" text-anchor="middle" stroke="#222" stroke-width="0.15">170</text>
<text x="231.8" y="570.45" font-size="5.8" fill="#222" text-anchor="middle" stroke="#222" stroke-width="0.15">113</text>
<text x="260" y="570.45" font-size="5.8" fill="#222" text-anchor="middle" stroke="#222" stroke-width="0.15">21.8</text>
<text x="296.2" y="570.45" font-size="5.8" fill="#222" text-anchor="middle" stroke="#222" stroke-width="0.15">0.82</text>
<text x="331.5" y="570.45" font-size="5.8" fill="#222" text-anchor="middle" stroke="#222" stroke-width="0.15">(0.63–1.06)</text>
<line x1="417.41" y1="569.36" x2="436.09" y2="569.36" stroke="#222" stroke-width="1.0"/>
<line x1="417.41" y1="566.66" x2="417.41" y2="572.06" stroke="#222" stroke-width="1.0"/>
<line x1="436.09" y1="566.66" x2="436.09" y2="572.06" stroke="#222" stroke-width="1.0"/>
<rect x="424.57" y="567.06" width="4.6" height="4.6" fill="#1a1a1a"/>
<text x="22" y="575.55" font-size="6" fill="#222" text-anchor="start" stroke="#222" stroke-width="0.15">V600K</text>
<text x="131.3" y="575.55" font-size="5.8" fill="#222" text-anchor="middle" stroke="#222" stroke-width="0.15">32</text>
<text x="154.3" y="575.55" font-size="5.8" fill="#222" text-anchor="middle" stroke="#222" stroke-width="0.15">19</text>
<text x="181.3" y="575.55" font-size="5.8" fill="#222" text-anchor="middle" stroke="#222" stroke-width="0.15">16.7</text>
<text x="210" y="575.55" font-size="5.8" fill="#222" text-anchor="middle" stroke="#222" stroke-width="0.15">24</text>
<text x="231.8" y="575.55" font-size="5.8" fill="#222" text-anchor="middle" stroke="#222" stroke-width="0.15">13</text>
<text x="260" y="575.55" font-size="5.8" fill="#222" text-anchor="middle" stroke="#222" stroke-width="0.15">24.1</text>
<text x="296.2" y="575.55" font-size="5.8" fill="#222" text-anchor="middle" stroke="#222" stroke-width="0.15">0.81</text>
<text x="331.5" y="575.55" font-size="5.8" fill="#222" text-anchor="middle" stroke="#222" stroke-width="0.15">(0.40–1.63)</text>
<line x1="401.09" y1="574.5" x2="451.55" y2="574.5" stroke="#222" stroke-width="1.0"/>
<line x1="401.09" y1="571.8" x2="401.09" y2="577.2" stroke="#222" stroke-width="1.0"/>
<line x1="451.55" y1="571.8" x2="451.55" y2="577.2" stroke="#222" stroke-width="1.0"/>
<rect x="425.53" y="573.6" width="1.8" height="1.8" fill="#1a1a1a"/>
<line x1="434" y1="310.8" x2="434" y2="594.6" stroke="#555" stroke-width="1.4"/>
<line x1="426.1" y1="310.8" x2="426.1" y2="594.6" stroke="#555" stroke-width="0.9" stroke-dasharray="3,2"/>
<line x1="351.3" y1="598" x2="516.7" y2="598" stroke="#333" stroke-width="1.2"/>
<line x1="351.3" y1="598" x2="351.3" y2="600.6" stroke="#333" stroke-width="1"/>
<text x="351.3" y="609.8" font-size="5.8" fill="#222" text-anchor="middle" stroke="#222" stroke-width="0.15">1/10</text>
<line x1="376.2" y1="598" x2="376.2" y2="600.6" stroke="#333" stroke-width="1"/>
<text x="376.2" y="609.8" font-size="5.8" fill="#222" text-anchor="middle" stroke="#222" stroke-width="0.15">1/5</text>
<line x1="409.1" y1="598" x2="409.1" y2="600.6" stroke="#333" stroke-width="1"/>
<text x="409.1" y="609.8" font-size="5.8" fill="#222" text-anchor="middle" stroke="#222" stroke-width="0.15">1/2</text>
<line x1="434" y1="598" x2="434" y2="600.6" stroke="#333" stroke-width="1"/>
<text x="434" y="609.8" font-size="5.8" fill="#222" text-anchor="middle" stroke="#222" stroke-width="0.15">1</text>
<line x1="458.9" y1="598" x2="458.9" y2="600.6" stroke="#333" stroke-width="1"/>
<text x="458.9" y="609.8" font-size="5.8" fill="#222" text-anchor="middle" stroke="#222" stroke-width="0.15">2</text>
<line x1="491.8" y1="598" x2="491.8" y2="600.6" stroke="#333" stroke-width="1"/>
<text x="491.8" y="609.8" font-size="5.8" fill="#222" text-anchor="middle" stroke="#222" stroke-width="0.15">5</text>
<line x1="516.7" y1="598" x2="516.7" y2="600.6" stroke="#333" stroke-width="1"/>
<text x="516.7" y="609.8" font-size="5.8" fill="#222" text-anchor="middle" stroke="#222" stroke-width="0.15">10</text>
<text x="103.1" y="622.7" font-size="12" fill="#222" text-anchor="start" font-weight="bold" stroke="#222" stroke-width="0.15">C</text>
<line x1="154.3" y1="627.9" x2="154.3" y2="782.3" stroke="#4d4d4d" stroke-width="1.3"/>
<line x1="153.7" y1="781.7" x2="440" y2="781.7" stroke="#4d4d4d" stroke-width="1.3"/>
<line x1="150" y1="781.7" x2="154.3" y2="781.7" stroke="#4d4d4d" stroke-width="1.1"/>
<text x="147.8" y="784.4" font-size="7.7" fill="#2a2a2a" text-anchor="end" stroke="#2a2a2a" stroke-width="0.08">0</text>
<line x1="150" y1="751.04" x2="154.3" y2="751.04" stroke="#4d4d4d" stroke-width="1.1"/>
<text x="147.8" y="753.74" font-size="7.7" fill="#2a2a2a" text-anchor="end" stroke="#2a2a2a" stroke-width="0.08">20</text>
<line x1="150" y1="720.38" x2="154.3" y2="720.38" stroke="#4d4d4d" stroke-width="1.1"/>
<text x="147.8" y="723.08" font-size="7.7" fill="#2a2a2a" text-anchor="end" stroke="#2a2a2a" stroke-width="0.08">40</text>
<line x1="150" y1="689.72" x2="154.3" y2="689.72" stroke="#4d4d4d" stroke-width="1.1"/>
<text x="147.8" y="692.42" font-size="7.7" fill="#2a2a2a" text-anchor="end" stroke="#2a2a2a" stroke-width="0.08">60</text>
<line x1="150" y1="659.06" x2="154.3" y2="659.06" stroke="#4d4d4d" stroke-width="1.1"/>
<text x="147.8" y="661.76" font-size="7.7" fill="#2a2a2a" text-anchor="end" stroke="#2a2a2a" stroke-width="0.08">80</text>
<line x1="150" y1="628.4" x2="154.3" y2="628.4" stroke="#4d4d4d" stroke-width="1.1"/>
<text x="147.8" y="631.1" font-size="7.7" fill="#2a2a2a" text-anchor="end" stroke="#2a2a2a" stroke-width="0.08">100</text>
<line x1="154.3" y1="781.7" x2="154.3" y2="785" stroke="#4d4d4d" stroke-width="1.1"/>
<text x="154.3" y="794.4" font-size="7.7" fill="#2a2a2a" text-anchor="middle" stroke="#2a2a2a" stroke-width="0.08">0</text>
<line x1="199.72" y1="781.7" x2="199.72" y2="785" stroke="#4d4d4d" stroke-width="1.1"/>
<text x="199.72" y="794.4" font-size="7.7" fill="#2a2a2a" text-anchor="middle" stroke="#2a2a2a" stroke-width="0.08">12</text>
<line x1="245.14" y1="781.7" x2="245.14" y2="785" stroke="#4d4d4d" stroke-width="1.1"/>
<text x="245.14" y="794.4" font-size="7.7" fill="#2a2a2a" text-anchor="middle" stroke="#2a2a2a" stroke-width="0.08">24</text>
<line x1="290.56" y1="781.7" x2="290.56" y2="785" stroke="#4d4d4d" stroke-width="1.1"/>
<text x="290.56" y="794.4" font-size="7.7" fill="#2a2a2a" text-anchor="middle" stroke="#2a2a2a" stroke-width="0.08">36</text>
<line x1="335.98" y1="781.7" x2="335.98" y2="785" stroke="#4d4d4d" stroke-width="1.1"/>
<text x="335.98" y="794.4" font-size="7.7" fill="#2a2a2a" text-anchor="middle" stroke="#2a2a2a" stroke-width="0.08">48</text>
<line x1="381.4" y1="781.7" x2="381.4" y2="785" stroke="#4d4d4d" stroke-width="1.1"/>
<text x="381.4" y="794.4" font-size="7.7" fill="#2a2a2a" text-anchor="middle" stroke="#2a2a2a" stroke-width="0.08">60</text>
<line x1="426.82" y1="781.7" x2="426.82" y2="785" stroke="#4d4d4d" stroke-width="1.1"/>
<text x="426.82" y="794.4" font-size="7.7" fill="#2a2a2a" text-anchor="middle" stroke="#2a2a2a" stroke-width="0.08">72</text>
<text x="297.3" y="806.7" font-size="8.6" fill="#222" text-anchor="middle" font-weight="bold" stroke="#222" stroke-width="0.15">Time (months)</text>
<text transform="translate(126.9,704.4) rotate(-90)" x="0" y="0" font-size="8.8" font-weight="bold" fill="#222" text-anchor="middle" stroke="#222" stroke-width="0.15">Overall survival (%)</text>
<line x1="245.14" y1="681.69" x2="245.14" y2="781.7" stroke="#888" stroke-width="0.9" stroke-dasharray="2,2.4"/>
<line x1="290.56" y1="704.8" x2="290.56" y2="781.7" stroke="#888" stroke-width="0.9" stroke-dasharray="2,2.4"/>
<line x1="335.98" y1="709.45" x2="335.98" y2="781.7" stroke="#888" stroke-width="0.9" stroke-dasharray="2,2.4"/>
<line x1="381.4" y1="715.6" x2="381.4" y2="781.7" stroke="#888" stroke-width="0.9" stroke-dasharray="2,2.4"/>
<path d="M154.3,628V627.9H162.7V627.8V628.6H163.85V630.2H165V631V631.15H174.2V631.3V632H177.7V632.7V633.85H178.3V635V635.3H187.5V635.6V636.75H189.5V639.05H191.5V640.2V641.08H192.95V642.83H194.4V643.7V644.25H197.3V644.8V646.25H200.8V647.7V648.63H202.07V650.5H203.33V652.37H204.6V653.3V653.55H209.2V653.8V655H213.3V656.2V657.22H214.83V659.25H216.37V661.28H217.9V662.3V662.7H224.2V663.1V664.12H225.17V666.15H226.13V668.18H227.1V669.2V670.15H232.6V671.1V672.15H233.57V674.25H234.55V676.35H235.53V678.45H236.5V679.5V680.25H241.5V681V681.55H247.3V682.1V683.12H249.6V685.17H251.9V686.2V687.15H255V688.1V688.88H257.3V690.42H259.6V691.2V692.08H260.9V693.85H262.2V695.62H263.5V696.5V697.27H266.15V698.83H268.8V699.6V700.4H275V701.2V701.95H278.85V703.45H282.7V704.2V704.45H285.8V704.7V704.85H299.6V705V705.4H308.1V705.8V706.15H313.5V706.5V707.65H319.6V708.8V709.05H330.4V709.3V709.45H341.5V709.6V710.95H343.8V712.3V713.05H353.1V713.8V714H360.8V714.2V714.4H373V714.6V715.1H373.6V715.6H436" fill="none" stroke="#3a5ca6" stroke-width="1.05" stroke-linejoin="miter"/>
<path d="M154.3,628V628.1H156V628.2V629.3H158.1V630.4V631.55H161.5V632.7V633.7H163.25V635.7H165V636.7V637.73H166.75V639.77H168.5V640.8V641.95H169.63V644.25H170.77V646.55H171.9V647.7V649.15H173.7V650.6V651.47H174.47V653.2H175.23V654.93H176V655.8V656.95H177.4V659.25H178.8V660.4V661.41H179.98V663.44H181.15V665.46H182.32V667.49H183.5V668.5V669.55H185.1V671.65H186.7V672.7V673.7H188.15V675.7H189.6V676.7V677.63H189.84V679.49H190.08V681.35H190.32V683.21H190.56V685.07H190.8V686V687H192.5V689H194.2V690V690.88H196.5V692.62H198.8V693.5V694.45H199.97V696.35H201.13V698.25H202.3V699.2V700.35H205.8V701.5V702.38H207.5V704.12H209.2V705V706.15H212.1V708.45H215V709.6V710.62H217.3V712.67H219.6V713.7V714.7H221.35V716.7H223.1V717.7V718.58H223.4V720.33H223.7V721.2V722.05H225.7V723.75H227.7V724.6V725.48H230V727.23H232.3V728.1V729.55H235.8V731V732.15H237.5V734.45H239.2V735.6V736.15H243.8V736.7V737H251.9V737.3V738.15H254.2V739V739.2H261.2V739.4V740.17H261.45V741.72H261.7V742.5V743.1H264.6V743.7V744.3H281.5V744.9V746.05H286.2V747.2V747.7H300V748.2V749.1H309.2V750V750.88H310.35V752.62H311.5V753.5V753.7H332.3V753.9V754.25H343.8V754.6V754.95H346.2V755.3V755.5H361.9V755.7V757.1H363.1V758.5V758.55H390.6V758.6V759.25H391.2V759.9V759.95H402V760V761.4H402.6V762.8H433.3" fill="none" stroke="#f29b27" stroke-width="1.05" stroke-linejoin="miter"/>
<path d="M155.2,625.08V630.88M152.6,627.98H157.8M156.9,625.04V630.84M154.3,627.94H159.5M158.7,625V630.8M156.1,627.9H161.3M160.4,624.95V630.75M157.8,627.85H163M161.5,624.93V630.73M158.9,627.83H164.1M167.3,628.18V633.98M164.7,631.08H169.9M170.2,628.27V634.07M167.6,631.17H172.8M187.5,632.7V638.5M184.9,635.6H190.1M197.3,641.9V647.7M194.7,644.8H199.9M213.3,653.3V659.1M210.7,656.2H215.9M221.5,659.86V665.66M218.9,662.76H224.1M247.3,679.2V685M244.7,682.1H249.9M308.1,702.9V708.7M305.5,705.8H310.7M330,706.38V712.18M327.4,709.28H332.6M331.5,706.43V712.23M328.9,709.33H334.1M360.8,711.3V717.1M358.2,714.2H363.4M386.2,712.7V718.5M383.6,715.6H388.8M389.5,712.7V718.5M386.9,715.6H392.1M390.9,712.7V718.5M388.3,715.6H393.5M392.9,712.7V718.5M390.3,715.6H395.5M394.2,712.7V718.5M391.6,715.6H396.8M395.6,712.7V718.5M393,715.6H398.2M396.9,712.7V718.5M394.3,715.6H399.5M398.3,712.7V718.5M395.7,715.6H400.9M399.6,712.7V718.5M397,715.6H402.2M401.2,712.7V718.5M398.6,715.6H403.8M403,712.7V718.5M400.4,715.6H405.6M405.3,712.7V718.5M402.7,715.6H407.9M406.5,712.7V718.5M403.9,715.6H409.1M407.7,712.7V718.5M405.1,715.6H410.3M409,712.7V718.5M406.4,715.6H411.6M410.2,712.7V718.5M407.6,715.6H412.8M411.5,712.7V718.5M408.9,715.6H414.1M412.7,712.7V718.5M410.1,715.6H415.3M414,712.7V718.5M411.4,715.6H416.6M415.1,712.7V718.5M412.5,715.6H417.7M418.5,712.7V718.5M415.9,715.6H421.1M419.8,712.7V718.5M417.2,715.6H422.4M421.1,712.7V718.5M418.5,715.6H423.7M423.8,712.7V718.5M421.2,715.6H426.4M428.5,712.7V718.5M425.9,715.6H431.1M434.3,712.7V718.5M431.7,715.6H436.9" fill="none" stroke="#3a5ca6" stroke-width="0.9"/>
<path d="M165,633.8V639.6M162.4,636.7H167.6M173.7,647.7V653.5M171.1,650.6H176.3M186.7,669.8V675.6M184.1,672.7H189.3M205.8,698.6V704.4M203.2,701.5H208.4M251.9,734.4V740.2M249.3,737.3H254.5M298.8,745.21V751.01M296.2,748.11H301.4M376.7,755.65V761.45M374.1,758.55H379.3M378.7,755.66V761.46M376.1,758.56H381.3M392.9,757.02V762.82M390.3,759.92H395.5M395.6,757.04V762.84M393,759.94H398.2M398.3,757.07V762.87M395.7,759.97H400.9M401,757.09V762.89M398.4,759.99H403.6M409,759.9V765.7M406.4,762.8H411.6M416.4,759.9V765.7M413.8,762.8H419M419.8,759.9V765.7M417.2,762.8H422.4M423.2,759.9V765.7M420.6,762.8H425.8M426.5,759.9V765.7M423.9,762.8H429.1M431.9,759.9V765.7M429.3,762.8H434.5" fill="none" stroke="#f29b27" stroke-width="0.9"/>
<text x="248" y="702.4" font-size="7.4" fill="#34559c" text-anchor="start" font-weight="bold" stroke="#34559c" stroke-width="0.15">65%</text>
<text x="293.5" y="716.9" font-size="7.4" fill="#34559c" text-anchor="start" font-weight="bold" stroke="#34559c" stroke-width="0.15">50%</text>
<text x="340" y="722.9" font-size="7.4" fill="#34559c" text-anchor="start" font-weight="bold" stroke="#34559c" stroke-width="0.15">46%</text>
<text x="385" y="726.3" font-size="7.4" fill="#34559c" text-anchor="start" font-weight="bold" stroke="#34559c" stroke-width="0.15">43%</text>
<text x="248" y="750.6" font-size="7.4" fill="#eb9526" text-anchor="start" font-weight="bold" stroke="#eb9526" stroke-width="0.15">29%</text>
<text x="293.5" y="760.5" font-size="7.4" fill="#eb9526" text-anchor="start" font-weight="bold" stroke="#eb9526" stroke-width="0.15">23%</text>
<text x="340" y="765" font-size="7.4" fill="#eb9526" text-anchor="start" font-weight="bold" stroke="#eb9526" stroke-width="0.15">19%</text>
<text x="385" y="770.5" font-size="7.4" fill="#eb9526" text-anchor="start" font-weight="bold" stroke="#eb9526" stroke-width="0.15">16%</text>
<line x1="160.4" y1="753.2" x2="174.7" y2="753.2" stroke="#6a88c2" stroke-width="1.5"/>
<line x1="160.4" y1="762.9" x2="174.7" y2="762.9" stroke="#f3a545" stroke-width="1.5"/>
<text x="178.8" y="755.9" font-size="7.35" fill="#4868ad" text-anchor="start">LDH normal</text>
<text x="178.8" y="765.7" font-size="7.35" fill="#f0a850" text-anchor="start">LDH elevated</text>
<line x1="162" y1="773.7" x2="165" y2="773.7" stroke="#3a5ca6" stroke-width="0.8"/>
<line x1="163.5" y1="772.2" x2="163.5" y2="775.2" stroke="#3a5ca6" stroke-width="0.8"/>
<line x1="169.7" y1="773.7" x2="172.7" y2="773.7" stroke="#f29b27" stroke-width="0.8"/>
<line x1="171.2" y1="772.2" x2="171.2" y2="775.2" stroke="#f29b27" stroke-width="0.8"/>
<text x="178.8" y="776.2" font-size="7.35" fill="#222" text-anchor="start">Censored</text>
<line x1="267.7" y1="645.7" x2="440.8" y2="645.7" stroke="#333" stroke-width="1.1"/>
<line x1="338" y1="627.7" x2="338" y2="671" stroke="#333" stroke-width="1.1"/>
<line x1="387.9" y1="627.7" x2="387.9" y2="671" stroke="#333" stroke-width="1.1"/>
<text x="363.1" y="633.8" font-size="7.2" fill="#34559c" text-anchor="middle" font-weight="bold" stroke="#34559c" stroke-width="0.15">LDH normal</text>
<text x="363.1" y="642.4" font-size="7.2" fill="#34559c" text-anchor="middle" font-weight="bold" stroke="#34559c" stroke-width="0.15"><tspan font-style="italic">n</tspan> = 131</text>
<text x="415.2" y="633.8" font-size="7.2" fill="#eb9526" text-anchor="middle" font-weight="bold" stroke="#eb9526" stroke-width="0.15">LDH elevated</text>
<text x="415.2" y="642.4" font-size="7.2" fill="#eb9526" text-anchor="middle" font-weight="bold" stroke="#eb9526" stroke-width="0.15"><tspan font-style="italic">n</tspan> = 112</text>
<text x="269.2" y="656.6" font-size="7.3" fill="#222" text-anchor="start">Median OS, months</text>
<text x="269.2" y="665.3" font-size="7.3" fill="#222" text-anchor="start">(95% CI)</text>
<text x="363.1" y="656.6" font-size="7.3" fill="#222" text-anchor="middle">38.5</text>
<text x="363.1" y="665.3" font-size="7.3" fill="#222" text-anchor="middle">(28.0–NE)</text>
<text x="415.2" y="656.6" font-size="7.3" fill="#222" text-anchor="middle">14.8</text>
<text x="415.2" y="665.3" font-size="7.3" fill="#222" text-anchor="middle">(11.3–18.6)</text>
<text x="135" y="818.5" font-size="7.2" fill="#222" text-anchor="end" font-weight="bold" stroke="#222" stroke-width="0.15">Patients at risk</text>
<text x="135" y="833.1" font-size="7.2" fill="#34559c" text-anchor="end" font-weight="bold" stroke="#34559c" stroke-width="0.15">LDH normal</text>
<text x="135" y="846.5" font-size="7.2" fill="#eb9526" text-anchor="end" font-weight="bold" stroke="#eb9526" stroke-width="0.15">LDH elevated</text>
<text x="154.3" y="833.1" font-size="7.3" fill="#34559c" text-anchor="middle">131</text>
<text x="154.3" y="846.5" font-size="7.3" fill="#eb9526" text-anchor="middle">112</text>
<text x="177.01" y="833.1" font-size="7.3" fill="#34559c" text-anchor="middle">117</text>
<text x="177.01" y="846.5" font-size="7.3" fill="#eb9526" text-anchor="middle">89</text>
<text x="199.72" y="833.1" font-size="7.3" fill="#34559c" text-anchor="middle">104</text>
<text x="199.72" y="846.5" font-size="7.3" fill="#eb9526" text-anchor="middle">61</text>
<text x="222.43" y="833.1" font-size="7.3" fill="#34559c" text-anchor="middle">90</text>
<text x="222.43" y="846.5" font-size="7.3" fill="#eb9526" text-anchor="middle">45</text>
<text x="245.14" y="833.1" font-size="7.3" fill="#34559c" text-anchor="middle">75</text>
<text x="245.14" y="846.5" font-size="7.3" fill="#eb9526" text-anchor="middle">30</text>
<text x="267.85" y="833.1" font-size="7.3" fill="#34559c" text-anchor="middle">62</text>
<text x="267.85" y="846.5" font-size="7.3" fill="#eb9526" text-anchor="middle">25</text>
<text x="290.56" y="833.1" font-size="7.3" fill="#34559c" text-anchor="middle">56</text>
<text x="290.56" y="846.5" font-size="7.3" fill="#eb9526" text-anchor="middle">23</text>
<text x="313.27" y="833.1" font-size="7.3" fill="#34559c" text-anchor="middle">54</text>
<text x="313.27" y="846.5" font-size="7.3" fill="#eb9526" text-anchor="middle">18</text>
<text x="335.98" y="833.1" font-size="7.3" fill="#34559c" text-anchor="middle">49</text>
<text x="335.98" y="846.5" font-size="7.3" fill="#eb9526" text-anchor="middle">18</text>
<text x="358.69" y="833.1" font-size="7.3" fill="#34559c" text-anchor="middle">46</text>
<text x="358.69" y="846.5" font-size="7.3" fill="#eb9526" text-anchor="middle">17</text>
<text x="381.4" y="833.1" font-size="7.3" fill="#34559c" text-anchor="middle">44</text>
<text x="381.4" y="846.5" font-size="7.3" fill="#eb9526" text-anchor="middle">13</text>
<text x="404.11" y="833.1" font-size="7.3" fill="#34559c" text-anchor="middle">25</text>
<text x="404.11" y="846.5" font-size="7.3" fill="#eb9526" text-anchor="middle">6</text>
<text x="426.82" y="833.1" font-size="7.3" fill="#34559c" text-anchor="middle">2</text>
<text x="426.82" y="846.5" font-size="7.3" fill="#eb9526" text-anchor="middle">1</text>
<text x="103.1" y="872" font-size="12" fill="#222" text-anchor="start" font-weight="bold" stroke="#222" stroke-width="0.15">D</text>
<line x1="156.5" y1="882" x2="156.5" y2="1037.6" stroke="#4d4d4d" stroke-width="1.3"/>
<line x1="155.9" y1="1037" x2="442" y2="1037" stroke="#4d4d4d" stroke-width="1.3"/>
<line x1="152.2" y1="1037" x2="156.5" y2="1037" stroke="#4d4d4d" stroke-width="1.1"/>
<text x="149.8" y="1039.7" font-size="7.7" fill="#2a2a2a" text-anchor="end" stroke="#2a2a2a" stroke-width="0.08">0</text>
<line x1="152.2" y1="1006.1" x2="156.5" y2="1006.1" stroke="#4d4d4d" stroke-width="1.1"/>
<text x="149.8" y="1008.8" font-size="7.7" fill="#2a2a2a" text-anchor="end" stroke="#2a2a2a" stroke-width="0.08">20</text>
<line x1="152.2" y1="975.2" x2="156.5" y2="975.2" stroke="#4d4d4d" stroke-width="1.1"/>
<text x="149.8" y="977.9" font-size="7.7" fill="#2a2a2a" text-anchor="end" stroke="#2a2a2a" stroke-width="0.08">40</text>
<line x1="152.2" y1="944.3" x2="156.5" y2="944.3" stroke="#4d4d4d" stroke-width="1.1"/>
<text x="149.8" y="947" font-size="7.7" fill="#2a2a2a" text-anchor="end" stroke="#2a2a2a" stroke-width="0.08">60</text>
<line x1="152.2" y1="913.4" x2="156.5" y2="913.4" stroke="#4d4d4d" stroke-width="1.1"/>
<text x="149.8" y="916.1" font-size="7.7" fill="#2a2a2a" text-anchor="end" stroke="#2a2a2a" stroke-width="0.08">80</text>
<line x1="152.2" y1="882.5" x2="156.5" y2="882.5" stroke="#4d4d4d" stroke-width="1.1"/>
<text x="149.8" y="885.2" font-size="7.7" fill="#2a2a2a" text-anchor="end" stroke="#2a2a2a" stroke-width="0.08">100</text>
<line x1="156.5" y1="1037" x2="156.5" y2="1040.3" stroke="#4d4d4d" stroke-width="1.1"/>
<text x="156.5" y="1049.6" font-size="7.7" fill="#2a2a2a" text-anchor="middle" stroke="#2a2a2a" stroke-width="0.08">0</text>
<line x1="201.88" y1="1037" x2="201.88" y2="1040.3" stroke="#4d4d4d" stroke-width="1.1"/>
<text x="201.88" y="1049.6" font-size="7.7" fill="#2a2a2a" text-anchor="middle" stroke="#2a2a2a" stroke-width="0.08">12</text>
<line x1="247.27" y1="1037" x2="247.27" y2="1040.3" stroke="#4d4d4d" stroke-width="1.1"/>
<text x="247.27" y="1049.6" font-size="7.7" fill="#2a2a2a" text-anchor="middle" stroke="#2a2a2a" stroke-width="0.08">24</text>
<line x1="292.65" y1="1037" x2="292.65" y2="1040.3" stroke="#4d4d4d" stroke-width="1.1"/>
<text x="292.65" y="1049.6" font-size="7.7" fill="#2a2a2a" text-anchor="middle" stroke="#2a2a2a" stroke-width="0.08">36</text>
<line x1="338.04" y1="1037" x2="338.04" y2="1040.3" stroke="#4d4d4d" stroke-width="1.1"/>
<text x="338.04" y="1049.6" font-size="7.7" fill="#2a2a2a" text-anchor="middle" stroke="#2a2a2a" stroke-width="0.08">48</text>
<line x1="383.42" y1="1037" x2="383.42" y2="1040.3" stroke="#4d4d4d" stroke-width="1.1"/>
<text x="383.42" y="1049.6" font-size="7.7" fill="#2a2a2a" text-anchor="middle" stroke="#2a2a2a" stroke-width="0.08">60</text>
<line x1="428.8" y1="1037" x2="428.8" y2="1040.3" stroke="#4d4d4d" stroke-width="1.1"/>
<text x="428.8" y="1049.6" font-size="7.7" fill="#2a2a2a" text-anchor="middle" stroke="#2a2a2a" stroke-width="0.08">72</text>
<text x="299.7" y="1061.9" font-size="8.6" fill="#222" text-anchor="middle" font-weight="bold" stroke="#222" stroke-width="0.15">Time (months)</text>
<text transform="translate(129.4,959.4) rotate(-90)" x="0" y="0" font-size="8.8" font-weight="bold" fill="#222" text-anchor="middle" stroke="#222" stroke-width="0.15">Overall survival (%)</text>
<line x1="247.27" y1="920.04" x2="247.27" y2="1037" stroke="#888" stroke-width="0.9" stroke-dasharray="2,2.4"/>
<line x1="292.65" y1="931.2" x2="292.65" y2="1037" stroke="#888" stroke-width="0.9" stroke-dasharray="2,2.4"/>
<line x1="338.04" y1="940.99" x2="338.04" y2="1037" stroke="#888" stroke-width="0.9" stroke-dasharray="2,2.4"/>
<line x1="383.42" y1="950" x2="383.42" y2="1037" stroke="#888" stroke-width="0.9" stroke-dasharray="2,2.4"/>
<path d="M156.5,882.9H196.3V884.1H197.3V885.3V885.4H216.3V885.5V886.65H216.9V887.8V888.67H218.05V890.42H219.2V891.3V892.75H222.1V894.2H234.2V895.05H234.4V896.75H234.6V898.45H234.8V899.3V900.17H235.95V901.92H237.1V902.8V903.8H238.25V905.8H239.4V906.8V907.97H240.3V910.32H241.2V911.5V912.35H242.35V914.05H243.5V914.9V915.77H244.35V917.52H245.2V918.4V919.55H248.1V920.7V921.15H248.7V921.6V921.7H260.8V921.8V922.6H261.95V924.2H263.1V925V926.45H266.5V927.9V928.2H271.7V928.5V929.85H272.9V931.2H297.3V932.3H298.5V933.4V933.6H315.8V933.8V934.67H316.35V936.42H316.9V937.3V937.65H325V938V939.4H326.2V940.8V941H351.5V941.2V942.35H352.7V943.5V943.85H359.6V944.2V945.08H360.2V946.83H360.8V947.7V947.95H379.2V948.2V949.1H380.4V950H443.1" fill="none" stroke="#3a5ca6" stroke-width="1.05" stroke-linejoin="miter"/>
<path d="M156.5,882.9H181.4V884.35H182.9V885.8V887.25H185.8V888.7V890.1H187.7V891.5V892.75H191.5V894V894.87H192.3V896.6H193.1V898.33H193.9V899.2V900.18H194.65V902.12H195.4V903.1V904.02H196.05V905.88H196.7V906.8V908H199.6V909.2V910.05H201.65V911.75H203.7V912.6V913.75H205.1V916.05H206.5V917.2V918.35H211.2V919.5V920.52H212.35V922.58H213.5V923.6V925.05H218.1V926.5V927.35H220.4V929.05H222.7V929.9V930.77H224.7V932.52H226.7V933.4V934.7H229.6V936V936.98H229.84V938.94H230.08V940.9H230.32V942.86H230.56V944.82H230.8V945.8V946.05H236.5V946.3V947.75H238.8V949.2V950.08H240.55V951.83H242.3V952.7V953H246.9V953.3H253V954.15H255.6V955V956.45H258.5V957.9V959.05H264.2V960.2V961.65H268.3V963.1V964.1H269.15V966.1H270V967.1V967.7H279.2V968.3V969.65H280.4V971V971.25H285.4V971.5V972.27H286.15V973.83H286.9V974.6V975H290.8V975.4V975.55H304.6V975.7V976.95H306.2V978.2V978.35H314.6V978.5V978.85H317.7V979.2V979.98H318.85V981.52H320V982.3V982.55H336.9V982.8V983.7H338.5V984.6V984.75H348.5V984.9V985.9H350V986.9V987.15H368.1V987.4V988.05H369.2V988.7H398.5V990H399V991.3H412.2V992.55H412.8V993.8H440.8" fill="none" stroke="#f29b27" stroke-width="1.05" stroke-linejoin="miter"/>
<path d="M156.5,882.9H160.3V883.85H161.7V884.8V885.88H161.95V888.03H162.2V889.1V889.35H164.6V889.6V890.55H165.6V891.5V892.48H166.3V894.42H167V895.4V896.35H167.5V898.25H168V899.2V900.17H168.33V902.1H168.67V904.03H169V905V905.5H171.3V906V906.95H172.05V908.85H172.8V909.8V911H173.05V913.4H173.3V914.6V915.1H174.2V915.6V916.64H174.3V918.72H174.4V920.8H174.5V922.88H174.6V924.96H174.7V926V926.2H178.1V926.4V927.25H178.3V928.95H178.5V930.65H178.7V931.5V932.47H178.78V934.4H178.87V936.33H178.95V938.27H179.03V940.2H179.12V942.13H179.2V943.1V943.95H181.5V944.8V945.65H184.4V946.5V947.67H185V950.02H185.6V951.2V952.35H187.9V953.5V953.75H191.9V954V955.15H193.1V956.3V957.34H193.22V959.42H193.34V961.5H193.46V963.58H193.58V965.66H193.7V966.7V967H201.2V967.3V968.21H201.32V970.04H201.45V971.86H201.57V973.69H201.7V974.6V974.9H206.9V975.2V976.17H207.3V978.1H207.7V980.03H208.1V981V982.4H208.7V983.8V984.4H214.4V985V986.15H215V987.3V987.6H221.3V987.9V989.35H221.9V990.8H226.5V991.67H226.9V993.4H227.3V995.13H227.7V996V997.15H230.6V998.3V998.55H239.2V998.8V999.67H240.1V1001.42H241V1002.3V1003.15H242.1V1004V1004.2H247.9V1004.4V1005.1H248.5V1005.8V1006.05H256.5V1006.3V1007.1H257.1V1008.7H257.7V1009.5V1009.65H266.5V1009.8V1010.55H267.1V1011.3H369.2V1012.12H369.8V1013.78H370.4V1014.6H429.2" fill="none" stroke="#8e2263" stroke-width="1.05" stroke-linejoin="miter"/>
<path d="M191.3,880V885.8M188.7,882.9H193.9M225.6,891.3V897.1M223,894.2H228.2M337.7,938.08V943.88M335.1,940.98H340.3M383.9,947.1V952.9M381.3,950H386.5M385.8,947.1V952.9M383.2,950H388.4M398.8,947.1V952.9M396.2,950H401.4M401,947.1V952.9M398.4,950H403.6M404.6,947.1V952.9M402,950H407.2M406,947.1V952.9M403.4,950H408.6M408.2,947.1V952.9M405.6,950H410.8M409.6,947.1V952.9M407,950H412.2M412.8,947.1V952.9M410.2,950H415.4M414.7,947.1V952.9M412.1,950H417.3M417.5,947.1V952.9M414.9,950H420.1M421.9,947.1V952.9M419.3,950H424.5M423.3,947.1V952.9M420.7,950H425.9M424.7,947.1V952.9M422.1,950H427.3M426.1,947.1V952.9M423.5,950H428.7M427.5,947.1V952.9M424.9,950H430.1M429.1,947.1V952.9M426.5,950H431.7M434.9,947.1V952.9M432.3,950H437.5M438.5,947.1V952.9M435.9,950H441.1M442.8,947.1V952.9M440.2,950H445.4" fill="none" stroke="#3a5ca6" stroke-width="0.9"/>
<path d="M172.8,880V885.8M170.2,882.9H175.4M251.5,950.4V956.2M248.9,953.3H254.1M252.7,950.4V956.2M250.1,953.3H255.3M304.6,972.8V978.6M302,975.7H307.2M314.6,975.6V981.4M312,978.5H317.2M336.9,979.9V985.7M334.3,982.8H339.5M394.2,985.8V991.6M391.6,988.7H396.8M396,985.8V991.6M393.4,988.7H398.6M398.3,985.8V991.6M395.7,988.7H400.9M401.7,988.4V994.2M399.1,991.3H404.3M404,988.4V994.2M401.4,991.3H406.6M405.8,988.4V994.2M403.2,991.3H408.4M407.5,988.4V994.2M404.9,991.3H410.1M408.7,988.4V994.2M406.1,991.3H411.3M409.8,988.4V994.2M407.2,991.3H412.4M413.5,990.9V996.7M410.9,993.8H416.1M414.7,990.9V996.7M412.1,993.8H417.3M415.9,990.9V996.7M413.3,993.8H418.5M417.1,990.9V996.7M414.5,993.8H419.7M418.3,990.9V996.7M415.7,993.8H420.9M419.5,990.9V996.7M416.9,993.8H422.1M420.7,990.9V996.7M418.1,993.8H423.3M421.9,990.9V996.7M419.3,993.8H424.5M424.2,990.9V996.7M421.6,993.8H426.8M426,990.9V996.7M423.4,993.8H428.6M427.7,990.9V996.7M425.1,993.8H430.3M429.4,990.9V996.7M426.8,993.8H432M432.3,990.9V996.7M429.7,993.8H434.9M436.9,990.9V996.7M434.3,993.8H439.5M440.4,990.9V996.7M437.8,993.8H443" fill="none" stroke="#f29b27" stroke-width="0.9"/>
<path d="M208.1,978.1V983.9M205.5,981H210.7M227.1,990.5V996.3M224.5,993.4H229.7M402,1011.7V1017.5M399.4,1014.6H404.6M404.5,1011.7V1017.5M401.9,1014.6H407.1M407.2,1011.7V1017.5M404.6,1014.6H409.8M412.4,1011.7V1017.5M409.8,1014.6H415M417.6,1011.7V1017.5M415,1014.6H420.2M428.6,1011.7V1017.5M426,1014.6H431.2" fill="none" stroke="#8e2263" stroke-width="0.9"/>
<text x="250.4" y="933.7" font-size="7.4" fill="#34559c" text-anchor="start" font-weight="bold" stroke="#34559c" stroke-width="0.15">76%</text>
<text x="296.4" y="942.5" font-size="7.4" fill="#34559c" text-anchor="start" font-weight="bold" stroke="#34559c" stroke-width="0.15">68%</text>
<text x="341.3" y="952.5" font-size="7.4" fill="#34559c" text-anchor="start" font-weight="bold" stroke="#34559c" stroke-width="0.15">61%</text>
<text x="387.2" y="960.4" font-size="7.4" fill="#34559c" text-anchor="start" font-weight="bold" stroke="#34559c" stroke-width="0.15">55%</text>
<text x="250.4" y="969.5" font-size="7.4" fill="#eb9526" text-anchor="start" font-weight="bold" stroke="#eb9526" stroke-width="0.15">53%</text>
<text x="295.6" y="987" font-size="7.4" fill="#eb9526" text-anchor="start" font-weight="bold" stroke="#eb9526" stroke-width="0.15">38%</text>
<text x="341.5" y="995.5" font-size="7.4" fill="#eb9526" text-anchor="start" font-weight="bold" stroke="#eb9526" stroke-width="0.15">32%</text>
<text x="387.2" y="1003.1" font-size="7.4" fill="#eb9526" text-anchor="start" font-weight="bold" stroke="#eb9526" stroke-width="0.15">29%</text>
<text x="249.8" y="1020.5" font-size="7.4" fill="#8e2263" text-anchor="start" font-weight="bold" stroke="#8e2263" stroke-width="0.15">18%</text>
<text x="296.5" y="1020.1" font-size="7.4" fill="#8e2263" text-anchor="start" font-weight="bold" stroke="#8e2263" stroke-width="0.15">14%</text>
<text x="340.9" y="1020.1" font-size="7.4" fill="#8e2263" text-anchor="start" font-weight="bold" stroke="#8e2263" stroke-width="0.15">14%</text>
<text x="387.2" y="1025.7" font-size="7.4" fill="#8e2263" text-anchor="start" font-weight="bold" stroke="#8e2263" stroke-width="0.15">13%</text>
<line x1="247.3" y1="894.8" x2="449.9" y2="894.8" stroke="#333" stroke-width="1.1"/>
<line x1="305" y1="876.9" x2="305" y2="920" stroke="#333" stroke-width="1.1"/>
<line x1="348.2" y1="876.9" x2="348.2" y2="920" stroke="#333" stroke-width="1.1"/>
<line x1="391.2" y1="876.9" x2="391.2" y2="920" stroke="#333" stroke-width="1.1"/>
<text x="326.6" y="875.8" font-size="7.3" fill="#34559c" text-anchor="middle" font-weight="bold" stroke="#34559c" stroke-width="0.15">Complete</text>
<text x="326.6" y="884.5" font-size="7.3" fill="#34559c" text-anchor="middle" font-weight="bold" stroke="#34559c" stroke-width="0.15">response</text>
<text x="326.6" y="892.7" font-size="7.3" fill="#34559c" text-anchor="middle" font-weight="bold" stroke="#34559c" stroke-width="0.15"><tspan font-style="italic">n</tspan> = 52</text>
<text x="370.2" y="875.8" font-size="7.3" fill="#eb9526" text-anchor="middle" font-weight="bold" stroke="#eb9526" stroke-width="0.15">Partial</text>
<text x="370.2" y="884.5" font-size="7.3" fill="#eb9526" text-anchor="middle" font-weight="bold" stroke="#eb9526" stroke-width="0.15">response</text>
<text x="370.2" y="892.7" font-size="7.3" fill="#eb9526" text-anchor="middle" font-weight="bold" stroke="#eb9526" stroke-width="0.15"><tspan font-style="italic">n</tspan> = 120</text>
<text x="422.1" y="884.5" font-size="7.3" fill="#8e2263" text-anchor="middle" font-weight="bold" stroke="#8e2263" stroke-width="0.15">Nonresponders</text>
<text x="422.1" y="892.7" font-size="7.3" fill="#8e2263" text-anchor="middle" font-weight="bold" stroke="#8e2263" stroke-width="0.15"><tspan font-style="italic">n</tspan> = 75</text>
<text x="248.5" y="905.6" font-size="7.2" fill="#222" text-anchor="start">Median OS,</text>
<text x="248.5" y="914.4" font-size="7.2" fill="#222" text-anchor="start">months (95% CI)</text>
<text x="326.6" y="905.4" font-size="7.2" fill="#222" text-anchor="middle">NR</text>
<text x="326.6" y="914.4" font-size="7.2" fill="#222" text-anchor="middle">(41.2–NE)</text>
<text x="370.2" y="905.4" font-size="7.2" fill="#222" text-anchor="middle">26.5</text>
<text x="370.2" y="914.4" font-size="7.2" fill="#222" text-anchor="middle">(19.7–33.4)</text>
<text x="422.1" y="905.4" font-size="7.2" fill="#222" text-anchor="middle">9.7</text>
<text x="422.1" y="914.4" font-size="7.2" fill="#222" text-anchor="middle">(6.1–12.6)</text>
<text x="137.5" y="1073.8" font-size="7.25" fill="#222" text-anchor="end" font-weight="bold" stroke="#222" stroke-width="0.15">Patients at risk</text>
<text x="137.9" y="1088.5" font-size="7.3" fill="#34559c" text-anchor="end" font-weight="bold" stroke="#34559c" stroke-width="0.15">Complete response</text>
<text x="137.9" y="1101.9" font-size="7.3" fill="#eb9526" text-anchor="end" font-weight="bold" stroke="#eb9526" stroke-width="0.15">Partial response</text>
<text x="137.9" y="1115.6" font-size="7.3" fill="#8e2263" text-anchor="end" font-weight="bold" stroke="#8e2263" stroke-width="0.15">Nonresponders</text>
<text x="156.5" y="1088.6" font-size="7.3" fill="#34559c" text-anchor="middle">52</text>
<text x="156.5" y="1101.7" font-size="7.3" fill="#eb9526" text-anchor="middle">120</text>
<text x="156.5" y="1115.5" font-size="7.3" fill="#8e2263" text-anchor="middle">75</text>
<text x="179.19" y="1088.6" font-size="7.3" fill="#34559c" text-anchor="middle">52</text>
<text x="179.19" y="1101.7" font-size="7.3" fill="#eb9526" text-anchor="middle">119</text>
<text x="179.19" y="1115.5" font-size="7.3" fill="#8e2263" text-anchor="middle">39</text>
<text x="201.88" y="1088.6" font-size="7.3" fill="#34559c" text-anchor="middle">50</text>
<text x="201.88" y="1101.7" font-size="7.3" fill="#eb9526" text-anchor="middle">95</text>
<text x="201.88" y="1115.5" font-size="7.3" fill="#8e2263" text-anchor="middle">24</text>
<text x="224.58" y="1088.6" font-size="7.3" fill="#34559c" text-anchor="middle">46</text>
<text x="224.58" y="1101.7" font-size="7.3" fill="#eb9526" text-anchor="middle">77</text>
<text x="224.58" y="1115.5" font-size="7.3" fill="#8e2263" text-anchor="middle">16</text>
<text x="247.27" y="1088.6" font-size="7.3" fill="#34559c" text-anchor="middle">37</text>
<text x="247.27" y="1101.7" font-size="7.3" fill="#eb9526" text-anchor="middle">62</text>
<text x="247.27" y="1115.5" font-size="7.3" fill="#8e2263" text-anchor="middle">10</text>
<text x="269.96" y="1088.6" font-size="7.3" fill="#34559c" text-anchor="middle">33</text>
<text x="269.96" y="1101.7" font-size="7.3" fill="#eb9526" text-anchor="middle">50</text>
<text x="269.96" y="1115.5" font-size="7.3" fill="#8e2263" text-anchor="middle">8</text>
<text x="292.65" y="1088.6" font-size="7.3" fill="#34559c" text-anchor="middle">33</text>
<text x="292.65" y="1101.7" font-size="7.3" fill="#eb9526" text-anchor="middle">42</text>
<text x="292.65" y="1115.5" font-size="7.3" fill="#8e2263" text-anchor="middle">8</text>
<text x="315.34" y="1088.6" font-size="7.3" fill="#34559c" text-anchor="middle">31</text>
<text x="315.34" y="1101.7" font-size="7.3" fill="#eb9526" text-anchor="middle">37</text>
<text x="315.34" y="1115.5" font-size="7.3" fill="#8e2263" text-anchor="middle">8</text>
<text x="338.04" y="1088.6" font-size="7.3" fill="#34559c" text-anchor="middle">29</text>
<text x="338.04" y="1101.7" font-size="7.3" fill="#eb9526" text-anchor="middle">33</text>
<text x="338.04" y="1115.5" font-size="7.3" fill="#8e2263" text-anchor="middle">8</text>
<text x="360.73" y="1088.6" font-size="7.3" fill="#34559c" text-anchor="middle">27</text>
<text x="360.73" y="1101.7" font-size="7.3" fill="#eb9526" text-anchor="middle">31</text>
<text x="360.73" y="1115.5" font-size="7.3" fill="#8e2263" text-anchor="middle">8</text>
<text x="383.42" y="1088.6" font-size="7.3" fill="#34559c" text-anchor="middle">24</text>
<text x="383.42" y="1101.7" font-size="7.3" fill="#eb9526" text-anchor="middle">29</text>
<text x="383.42" y="1115.5" font-size="7.3" fill="#8e2263" text-anchor="middle">7</text>
<text x="406.11" y="1088.6" font-size="7.3" fill="#34559c" text-anchor="middle">15</text>
<text x="406.11" y="1101.7" font-size="7.3" fill="#eb9526" text-anchor="middle">16</text>
<text x="406.11" y="1115.5" font-size="7.3" fill="#8e2263" text-anchor="middle">2</text>
<text x="428.8" y="1088.6" font-size="7.3" fill="#34559c" text-anchor="middle">1</text>
<text x="428.8" y="1101.7" font-size="7.3" fill="#eb9526" text-anchor="middle">2</text>
</svg>
</body></html>
